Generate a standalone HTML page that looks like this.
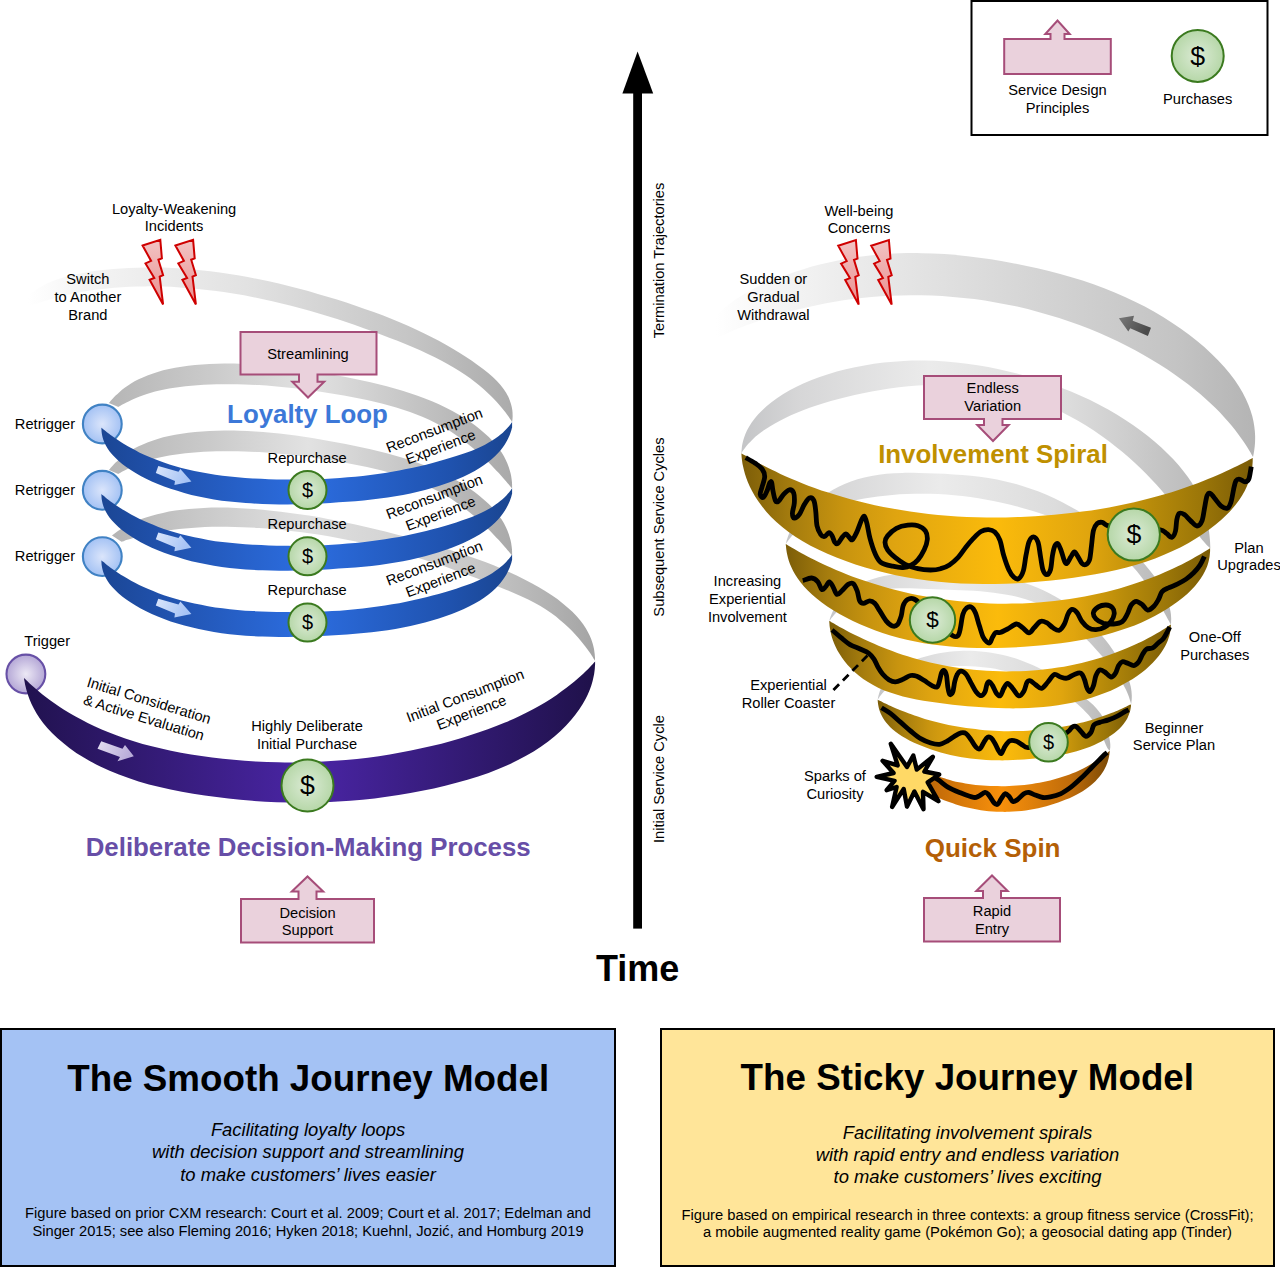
<!DOCTYPE html>
<html><head><meta charset="utf-8"><title>Journey Models</title>
<style>
html,body{margin:0;padding:0;background:#fff;}
body{width:1280px;height:1268px;overflow:hidden;position:relative;font-family:"Liberation Sans",sans-serif;}
svg{position:absolute;left:0;top:0;}
svg text{font-family:"Liberation Sans",sans-serif;}
</style></head><body>
<svg width="1280" height="1268" viewBox="0 0 1280 1268">
<defs>
<linearGradient id="gBlue" gradientUnits="userSpaceOnUse" x1="101" y1="0" x2="512" y2="0">
<stop offset="0" stop-color="#1b4694"/><stop offset="0.12" stop-color="#1f4fa8"/><stop offset="0.5" stop-color="#2c6de0"/><stop offset="0.85" stop-color="#1f52ae"/><stop offset="1" stop-color="#1a4590"/></linearGradient>
<linearGradient id="gPurple" gradientUnits="userSpaceOnUse" x1="24" y1="0" x2="595" y2="0">
<stop offset="0" stop-color="#21124f"/><stop offset="0.5" stop-color="#4a25a5"/><stop offset="1" stop-color="#1f114a"/></linearGradient>
<linearGradient id="gGrayL" gradientUnits="userSpaceOnUse" x1="104" y1="0" x2="512" y2="0">
<stop offset="0" stop-color="#b5b5b5"/><stop offset="0.27" stop-color="#cbcbcb"/><stop offset="0.5" stop-color="#e2e2e2"/><stop offset="1" stop-color="#a9a9a9"/></linearGradient>
<linearGradient id="gGray0" gradientUnits="userSpaceOnUse" x1="110" y1="0" x2="596" y2="0">
<stop offset="0" stop-color="#b4b4b4"/><stop offset="0.4" stop-color="#e0e0e0"/><stop offset="0.75" stop-color="#c8c8c8"/><stop offset="1" stop-color="#a4a4a4"/></linearGradient>
<linearGradient id="gGray3" gradientUnits="userSpaceOnUse" x1="28" y1="0" x2="512" y2="0">
<stop offset="0" stop-color="#ffffff"/><stop offset="0.12" stop-color="#f4f4f4"/><stop offset="0.45" stop-color="#e2e2e2"/><stop offset="0.8" stop-color="#c4c4c4"/><stop offset="1" stop-color="#ababab"/></linearGradient>
<radialGradient id="gRetr" cx="0.5" cy="0.5" r="0.5"><stop offset="0" stop-color="#dbe5fb"/><stop offset="1" stop-color="#a4c2f4"/></radialGradient>
<radialGradient id="gTrig" cx="0.5" cy="0.5" r="0.5"><stop offset="0" stop-color="#ece8f5"/><stop offset="1" stop-color="#b4a7d6"/></radialGradient>
<radialGradient id="gGreen" cx="0.5" cy="0.5" r="0.5"><stop offset="0" stop-color="#dcebd6"/><stop offset="1" stop-color="#b6d7a8"/></radialGradient>
<linearGradient id="gBolt" x1="0" y1="0" x2="0" y2="1"><stop offset="0" stop-color="#f2c4c4"/><stop offset="1" stop-color="#ea8f8f"/></linearGradient>
<linearGradient id="gArrB" x1="0" y1="0" x2="1" y2="0.3"><stop offset="0" stop-color="#dbe6fb"/><stop offset="1" stop-color="#a6c3f5"/></linearGradient>
<linearGradient id="gArrP" x1="0" y1="0" x2="1" y2="0.3"><stop offset="0" stop-color="#e4dff1"/><stop offset="1" stop-color="#b9add9"/></linearGradient>

<linearGradient id="gGold" x1="0" y1="0" x2="1" y2="0">
<stop offset="0" stop-color="#7c5d08"/><stop offset="0.1" stop-color="#a67d0e"/><stop offset="0.2" stop-color="#c8940f"/><stop offset="0.3" stop-color="#dfa410"/><stop offset="0.5" stop-color="#fbbb0b"/><stop offset="0.68" stop-color="#e0a50e"/><stop offset="0.8" stop-color="#b88b0a"/><stop offset="0.9" stop-color="#9b7608"/><stop offset="1" stop-color="#7a5b06"/></linearGradient>
<linearGradient id="gOrange" x1="0" y1="0" x2="1" y2="0">
<stop offset="0" stop-color="#b05e08"/><stop offset="0.45" stop-color="#f8900b"/><stop offset="0.8" stop-color="#c06c0a"/><stop offset="1" stop-color="#7a4a06"/></linearGradient>
<linearGradient id="gK" x1="0" y1="0" x2="1" y2="0">
<stop offset="0" stop-color="#c4c5c7"/><stop offset="0.12" stop-color="#d6d6d7"/><stop offset="0.4" stop-color="#ebebeb"/><stop offset="0.7" stop-color="#dcdcdc"/><stop offset="1" stop-color="#b8b8b8"/></linearGradient>
<linearGradient id="gTG" gradientUnits="userSpaceOnUse" x1="716" y1="0" x2="1256" y2="0">
<stop offset="0" stop-color="#ffffff"/><stop offset="0.1" stop-color="#f6f6f6"/><stop offset="0.3" stop-color="#e8e8e8"/><stop offset="0.6" stop-color="#d4d4d4"/><stop offset="0.85" stop-color="#c4c4c4"/><stop offset="1" stop-color="#b4b4b4"/></linearGradient>
<linearGradient id="gArrG" x1="0" y1="0" x2="1" y2="0.4"><stop offset="0" stop-color="#7a7a7a"/><stop offset="1" stop-color="#4a4a4a"/></linearGradient>

</defs>
<path d="M22 303C22.1 302.9 22.2 302.8 22.5 302.4C22.8 302 23.3 301.4 24 300.6C24.7 299.9 25.6 298.9 26.6 297.9C27.7 296.8 29 295.6 30.4 294.3C31.9 293.1 33.6 291.7 35.6 290.3C37.5 288.9 39.7 287.5 42.2 286.1C44.6 284.7 47.3 283.3 50.3 282C53.3 280.8 56.5 279.5 60 278.4C63.5 277.2 67.3 276.2 71.3 275.2C75.3 274.3 79.6 273.5 84.1 272.7C88.5 271.9 93.2 271.2 98.1 270.6C102.9 270 107.9 269.4 113.1 269C118.2 268.5 123.6 268.1 129.1 267.9C134.5 267.6 140.2 267.5 145.9 267.4C151.7 267.4 157.5 267.4 163.5 267.6C169.5 267.8 175.6 268.1 181.8 268.5C188 269 194.3 269.5 200.6 270.2C207 270.8 213.4 271.6 219.8 272.5C226.3 273.4 232.8 274.4 239.3 275.5C245.9 276.7 252.5 277.9 259 279.3C265.6 280.6 272.2 282 278.8 283.6C285.3 285.1 291.9 286.8 298.4 288.5C304.9 290.2 311.4 292 317.8 293.9C324.2 295.7 330.6 297.7 336.9 299.6C343.2 301.6 349.5 303.7 355.6 305.7C361.7 307.8 367.8 309.9 373.7 312.1C379.7 314.3 385.5 316.5 391.2 318.8C396.9 321.1 402.5 323.4 407.9 325.8C413.4 328.2 418.7 330.7 423.8 333.2C428.9 335.7 433.9 338.2 438.8 340.8C443.6 343.4 448.3 346.1 452.8 348.8C457.3 351.4 461.6 354.1 465.7 356.8C469.9 359.5 473.9 362.3 477.6 365C481.4 367.7 485 370.4 488.2 373C491.4 375.7 494.4 378.4 496.9 381.1C499.5 383.8 501.7 386.4 503.6 389C505.5 391.6 506.9 394.2 508.2 396.6C509.4 399.1 510.2 401.5 510.9 403.7C511.6 405.9 512 408.1 512.3 409.9C512.6 411.8 512.6 413.6 512.6 415.1C512.7 416.6 512.6 417.9 512.5 418.9C512.4 419.9 512.3 420.7 512.2 421.2C512.2 421.7 512.1 421.9 512.1 422L512.1 422C512 421.9 512 421.8 511.7 421.4C511.4 421 511.1 420.4 510.5 419.6C510 418.8 509.3 417.8 508.5 416.6C507.7 415.5 506.7 414.1 505.6 412.6C504.4 411.1 503.2 409.5 501.7 407.7C500.2 405.9 498.6 404 496.8 402C495 400 493 397.9 490.7 395.7C488.5 393.5 486.1 391.2 483.5 388.9C480.9 386.7 478 384.3 475 381.9C471.9 379.6 468.6 377.2 465.1 374.8C461.7 372.4 457.9 370.1 454 367.7C450.1 365.4 445.9 363 441.6 360.7C437.2 358.4 432.6 356.1 427.9 353.9C423.2 351.6 418.2 349.4 413.1 347.3C408 345.1 402.7 342.9 397.4 340.8C392 338.7 386.5 336.5 380.9 334.4C375.3 332.3 369.5 330.2 363.7 328.2C357.9 326.1 352.1 324.1 346.1 322.1C340.2 320.1 334.1 318.2 328 316.3C322 314.4 315.8 312.6 309.7 310.8C303.5 309 297.3 307.3 291 305.7C284.8 304.1 278.5 302.6 272.3 301.2C266 299.8 259.7 298.4 253.5 297.2C247.2 295.9 240.9 294.8 234.7 293.8C228.5 292.7 222.3 291.8 216.2 291C210 290.2 203.9 289.5 197.9 288.9C191.8 288.3 185.8 287.8 179.9 287.4C174.1 287 168.2 286.7 162.5 286.6C156.8 286.4 151.2 286.3 145.7 286.4C140.2 286.4 134.8 286.6 129.6 286.8C124.4 287 119.3 287.4 114.4 287.8C109.5 288.2 104.7 288.7 100.1 289.3C95.6 289.8 91.1 290.5 86.9 291.1C82.7 291.8 78.7 292.6 74.8 293.3C71 294.1 67.3 294.9 63.9 295.7C60.4 296.6 57.2 297.4 54.1 298.2C51.1 299 48.3 299.9 45.7 300.7C43 301.5 40.6 302.2 38.5 303C36.3 303.7 34.3 304.4 32.5 305C30.8 305.6 29.3 306.2 27.9 306.7C26.6 307.2 25.5 307.6 24.6 308C23.8 308.3 23.1 308.6 22.7 308.7C22.2 308.9 22.1 309 22 309Z" fill="url(#gGray3)"/>
<path d="M108.9 403.1C109 403 109 402.9 109.3 402.6C109.6 402.3 110 401.8 110.5 401.1C111.1 400.5 111.7 399.7 112.6 398.7C113.4 397.8 114.4 396.8 115.6 395.6C116.8 394.5 118.1 393.2 119.6 391.9C121.1 390.6 122.8 389.2 124.7 387.8C126.6 386.4 128.7 385 131 383.5C133.3 382.1 135.8 380.7 138.6 379.3C141.3 378 144.2 376.6 147.4 375.4C150.6 374.2 154 373 157.6 371.9C161.2 370.8 165 369.8 169 369C173 368.1 177.2 367.3 181.6 366.7C185.9 366 190.5 365.5 195.1 365.1C199.8 364.6 204.6 364.3 209.4 364C214.3 363.8 219.2 363.6 224.3 363.6C229.3 363.5 234.4 363.6 239.5 363.7C244.7 363.9 250 364.1 255.2 364.4C260.5 364.7 265.9 365.2 271.2 365.7C276.6 366.2 282.1 366.8 287.5 367.5C293 368.2 298.5 368.9 304 369.7C309.5 370.6 315 371.5 320.6 372.4C326.1 373.4 331.7 374.4 337.3 375.4C342.8 376.5 348.4 377.5 354 378.7C359.5 379.8 365 381 370.5 382.2C376 383.5 381.4 384.8 386.7 386.2C392.1 387.6 397.3 389.1 402.5 390.7C407.6 392.3 412.7 393.9 417.6 395.7C422.5 397.5 427.4 399.4 432 401.3C436.6 403.3 441.2 405.4 445.5 407.6C449.9 409.7 454.1 412 458.1 414.3C462.1 416.7 466 419.1 469.6 421.6C473.3 424.1 476.7 426.6 479.9 429.2C483.1 431.8 486.1 434.4 488.8 437C491.5 439.6 493.9 442.3 496 444.9C498.2 447.5 500 450.1 501.7 452.6C503.3 455.1 504.7 457.6 505.8 460C507 462.4 507.9 464.7 508.7 466.9C509.5 469.1 510 471.2 510.5 473.1C511 475 511.3 476.8 511.5 478.4C511.8 480 511.9 481.5 512 482.7C512.1 484 512.1 485.1 512.1 485.9C512.1 486.8 512.1 487.4 512.1 487.8C512.1 488.3 512.1 488.4 512.1 488.5L512.1 488.5C512 488.4 512 488.4 511.7 488.1C511.5 487.8 511.1 487.3 510.6 486.7C510.2 486.2 509.5 485.4 508.8 484.6C508.1 483.7 507.2 482.7 506.2 481.5C505.3 480.4 504.1 479.1 502.9 477.7C501.7 476.3 500.3 474.8 498.8 473.1C497.3 471.5 495.7 469.7 493.9 467.9C492.1 466 490.2 464.1 488.2 462C486.1 460 483.9 457.9 481.6 455.7C479.3 453.5 476.8 451.3 474.1 449C471.5 446.8 468.7 444.5 465.8 442.2C462.9 439.9 459.8 437.6 456.5 435.4C453.3 433.2 449.8 430.9 446.3 428.8C442.7 426.7 438.9 424.7 435.1 422.7C431.2 420.7 427.1 418.9 422.9 417.1C418.7 415.3 414.4 413.6 410 412C405.5 410.4 400.9 408.9 396.2 407.5C391.5 406.1 386.7 404.8 381.8 403.6C376.9 402.3 372 401.2 366.9 400.1C361.9 399 356.8 398 351.6 397C346.5 396 341.3 395.1 336.1 394.2C331 393.3 325.7 392.5 320.5 391.7C315.3 390.9 310.1 390.2 304.9 389.5C299.8 388.8 294.6 388.2 289.5 387.7C284.3 387.1 279.2 386.6 274.2 386.2C269.1 385.8 264.1 385.4 259.1 385.1C254.2 384.8 249.3 384.6 244.5 384.4C239.7 384.3 235 384.2 230.3 384.2C225.7 384.2 221.1 384.2 216.7 384.3C212.3 384.4 207.9 384.6 203.7 384.8C199.5 385 195.3 385.3 191.4 385.7C187.4 386 183.6 386.4 179.9 386.9C176.2 387.4 172.6 387.9 169.2 388.5C165.8 389.1 162.6 389.8 159.5 390.5C156.5 391.2 153.6 392 150.9 392.8C148.1 393.6 145.6 394.4 143.2 395.2C140.8 396.1 138.6 396.9 136.6 397.7C134.5 398.6 132.7 399.4 131 400.2C129.3 401 127.8 401.7 126.4 402.4C125.1 403.1 123.9 403.7 122.9 404.3C121.9 404.8 121.1 405.3 120.4 405.7C119.7 406.1 119.2 406.4 118.9 406.6C118.6 406.8 118.5 406.8 118.4 406.9Z" fill="url(#gGrayL)"/>
<path d="M108.9 470.1C109 470 109 469.9 109.3 469.6C109.6 469.3 110 468.8 110.5 468.1C111.1 467.5 111.7 466.7 112.6 465.7C113.4 464.8 114.4 463.8 115.6 462.6C116.8 461.5 118.1 460.2 119.6 458.9C121.1 457.6 122.8 456.2 124.7 454.8C126.6 453.4 128.7 452 131 450.5C133.3 449.1 135.8 447.7 138.6 446.3C141.3 445 144.2 443.6 147.4 442.4C150.6 441.2 154 440 157.6 438.9C161.2 437.8 165 436.8 169 436C173 435.1 177.2 434.3 181.6 433.7C185.9 433 190.5 432.5 195.1 432.1C199.8 431.6 204.6 431.3 209.4 431C214.3 430.8 219.2 430.6 224.3 430.6C229.3 430.5 234.4 430.6 239.5 430.7C244.7 430.9 250 431.1 255.2 431.4C260.5 431.7 265.9 432.2 271.2 432.7C276.6 433.2 282.1 433.8 287.5 434.5C293 435.2 298.5 435.9 304 436.7C309.5 437.6 315 438.5 320.6 439.4C326.1 440.4 331.7 441.4 337.3 442.4C342.8 443.5 348.4 444.5 354 445.7C359.5 446.8 365 448 370.5 449.2C376 450.5 381.4 451.8 386.7 453.2C392.1 454.6 397.3 456.1 402.5 457.7C407.6 459.3 412.7 460.9 417.6 462.7C422.5 464.5 427.4 466.4 432 468.3C436.6 470.3 441.2 472.4 445.5 474.6C449.9 476.7 454.1 479 458.1 481.3C462.1 483.7 466 486.1 469.6 488.6C473.3 491.1 476.7 493.6 479.9 496.2C483.1 498.8 486.1 501.4 488.8 504C491.5 506.6 493.9 509.3 496 511.9C498.2 514.5 500 517.1 501.7 519.6C503.3 522.1 504.7 524.6 505.8 527C507 529.4 507.9 531.7 508.7 533.9C509.5 536.1 510 538.2 510.5 540.1C511 542 511.3 543.8 511.5 545.4C511.8 547 511.9 548.5 512 549.7C512.1 551 512.1 552.1 512.1 552.9C512.1 553.8 512.1 554.4 512.1 554.8C512.1 555.3 512.1 555.4 512.1 555.5L512.1 555.5C512 555.4 512 555.4 511.7 555.1C511.5 554.8 511.1 554.3 510.6 553.7C510.2 553.2 509.5 552.4 508.8 551.6C508.1 550.7 507.2 549.7 506.2 548.5C505.3 547.4 504.1 546.1 502.9 544.7C501.7 543.3 500.3 541.8 498.8 540.1C497.3 538.5 495.7 536.7 493.9 534.9C492.1 533 490.2 531.1 488.2 529C486.1 527 483.9 524.9 481.6 522.7C479.3 520.5 476.8 518.3 474.1 516C471.5 513.8 468.7 511.5 465.8 509.2C462.9 506.9 459.8 504.6 456.5 502.4C453.3 500.2 449.8 497.9 446.3 495.8C442.7 493.7 438.9 491.7 435.1 489.7C431.2 487.7 427.1 485.9 422.9 484.1C418.7 482.3 414.4 480.6 410 479C405.5 477.4 400.9 475.9 396.2 474.5C391.5 473.1 386.7 471.8 381.8 470.6C376.9 469.3 372 468.2 366.9 467.1C361.9 466 356.8 465 351.6 464C346.5 463 341.3 462.1 336.1 461.2C331 460.3 325.7 459.5 320.5 458.7C315.3 457.9 310.1 457.2 304.9 456.5C299.8 455.8 294.6 455.2 289.5 454.7C284.3 454.1 279.2 453.6 274.2 453.2C269.1 452.8 264.1 452.4 259.1 452.1C254.2 451.8 249.3 451.6 244.5 451.4C239.7 451.3 235 451.2 230.3 451.2C225.7 451.2 221.1 451.2 216.7 451.3C212.3 451.4 207.9 451.6 203.7 451.8C199.5 452 195.3 452.3 191.4 452.7C187.4 453 183.6 453.4 179.9 453.9C176.2 454.4 172.6 454.9 169.2 455.5C165.8 456.1 162.6 456.8 159.5 457.5C156.5 458.2 153.6 459 150.9 459.8C148.1 460.6 145.6 461.4 143.2 462.2C140.8 463.1 138.6 463.9 136.6 464.7C134.5 465.6 132.7 466.4 131 467.2C129.3 468 127.8 468.7 126.4 469.4C125.1 470.1 123.9 470.7 122.9 471.3C121.9 471.8 121.1 472.3 120.4 472.7C119.7 473.1 119.2 473.4 118.9 473.6C118.6 473.8 118.5 473.8 118.4 473.9Z" fill="url(#gGrayL)"/>
<path d="M112 535.5C112.1 535.4 112.2 535.3 112.6 535C113 534.7 113.5 534.3 114.3 533.7C115.1 533.1 116.1 532.3 117.2 531.5C118.4 530.7 119.8 529.7 121.4 528.8C123 527.8 124.9 526.7 126.9 525.6C129 524.5 131.3 523.3 133.8 522.2C136.3 521 139.1 519.9 142.1 518.8C145.1 517.7 148.3 516.7 151.8 515.7C155.3 514.7 159 513.8 162.9 512.9C166.8 512.1 171 511.3 175.3 510.6C179.7 510 184.2 509.4 188.9 508.9C193.7 508.4 198.6 508.1 203.7 507.9C208.8 507.6 214 507.5 219.5 507.5C224.9 507.5 230.5 507.7 236.1 507.9C241.8 508.1 247.7 508.5 253.6 509C259.5 509.4 265.5 510 271.6 510.7C277.7 511.3 283.8 512.1 290 512.9C296.2 513.7 302.5 514.6 308.8 515.6C315.1 516.6 321.4 517.7 327.8 518.9C334.1 520.1 340.5 521.3 346.9 522.7C353.3 524 359.7 525.4 366.1 526.9C372.5 528.4 378.9 529.9 385.2 531.5C391.5 533.1 397.9 534.8 404.2 536.5C410.5 538.2 416.7 540 422.9 541.8C429.1 543.6 435.3 545.4 441.3 547.3C447.4 549.1 453.4 551 459.4 553C465.3 554.9 471.1 556.9 476.8 559C482.5 561 488.1 563.1 493.6 565.3C499 567.5 504.4 569.8 509.5 572.2C514.7 574.5 519.7 576.9 524.5 579.4C529.4 581.9 534.1 584.5 538.5 587.1C543 589.7 547.4 592.4 551.4 595.1C555.5 597.8 559.3 600.6 562.8 603.4C566.3 606.2 569.5 609 572.4 611.8C575.3 614.6 577.8 617.4 580.1 620.2C582.3 622.9 584.2 625.7 585.8 628.3C587.4 630.9 588.7 633.5 589.9 636C591 638.4 591.8 640.8 592.5 643C593.1 645.1 593.6 647.2 594 649C594.3 650.9 594.5 652.6 594.7 654C594.8 655.4 594.9 656.7 595 657.7C595 658.7 595 659.4 595 659.9C595 660.4 595 660.6 595 660.7L595 660.7C594.9 660.6 594.9 660.5 594.6 660.1C594.4 659.7 594 659.2 593.5 658.4C593.1 657.6 592.4 656.7 591.7 655.6C590.9 654.4 590.1 653.1 589 651.6C588 650.2 586.8 648.5 585.5 646.8C584.1 645 582.6 643 580.9 641C579.2 639 577.4 636.8 575.3 634.6C573.3 632.3 571 630 568.5 627.6C566.1 625.2 563.4 622.8 560.5 620.4C557.6 617.9 554.5 615.5 551.1 613.1C547.8 610.7 544.2 608.3 540.4 606.1C536.5 603.8 532.5 601.6 528.2 599.5C524 597.4 519.5 595.4 514.9 593.4C510.2 591.4 505.4 589.5 500.5 587.5C495.5 585.5 490.4 583.5 485.3 581.5C480.1 579.4 474.8 577.4 469.4 575.4C464 573.4 458.5 571.4 452.9 569.4C447.3 567.4 441.7 565.5 435.9 563.6C430.2 561.7 424.4 559.8 418.5 558C412.7 556.2 406.7 554.4 400.8 552.7C394.9 551.1 388.9 549.5 382.9 547.9C376.9 546.4 370.8 544.9 364.8 543.6C358.8 542.2 352.7 540.9 346.7 539.7C340.7 538.5 334.7 537.4 328.7 536.3C322.7 535.3 316.7 534.3 310.8 533.5C304.9 532.6 299 531.8 293.1 531.2C287.3 530.5 281.5 529.9 275.8 529.3C270.1 528.8 264.5 528.4 259 528C253.4 527.7 248 527.4 242.6 527.2C237.3 527 232.1 526.8 227 526.8C221.9 526.7 216.9 526.7 212.1 526.8C207.3 527 202.6 527.1 198.1 527.4C193.6 527.6 189.3 528 185.1 528.4C181 528.7 177 529.2 173.2 529.7C169.5 530.2 165.9 530.7 162.5 531.3C159.1 531.9 155.9 532.5 152.9 533.1C150 533.7 147.2 534.4 144.6 535C142.1 535.6 139.7 536.2 137.6 536.8C135.4 537.4 133.5 537.9 131.8 538.4C130.1 538.9 128.6 539.4 127.3 539.8C126 540.2 124.9 540.6 124.1 540.9C123.2 541.2 122.6 541.4 122.1 541.6C121.7 541.7 121.6 541.8 121.5 541.8Z" fill="url(#gGray0)"/>
<circle cx="102.3" cy="424" r="19.4" fill="url(#gRetr)" stroke="#4082c4" stroke-width="2.1"/>
<circle cx="102.3" cy="490.3" r="19.4" fill="url(#gRetr)" stroke="#4082c4" stroke-width="2.1"/>
<circle cx="102.3" cy="556.6" r="19.4" fill="url(#gRetr)" stroke="#4082c4" stroke-width="2.1"/>
<circle cx="25.9" cy="674" r="19.4" fill="url(#gTrig)" stroke="#6750a6" stroke-width="2.1"/>
<path d="M101.4 427.7C101.5 427.8 101.5 427.8 101.8 428.1C102.1 428.3 102.6 428.7 103.2 429.2C103.8 429.7 104.6 430.3 105.5 431.1C106.4 431.8 107.4 432.6 108.7 433.6C109.9 434.5 111.2 435.5 112.8 436.6C114.3 437.7 116 438.9 117.9 440.1C119.8 441.4 121.8 442.7 124 444C126.2 445.4 128.5 446.7 131.1 448.1C133.6 449.5 136.3 450.9 139.2 452.4C142.1 453.8 145.1 455.2 148.3 456.5C151.5 457.9 154.9 459.3 158.4 460.6C162 461.9 165.7 463.2 169.5 464.4C173.4 465.6 177.4 466.8 181.5 467.9C185.7 469 190 470 194.4 471C198.9 471.9 203.4 472.8 208.1 473.6C212.8 474.4 217.6 475.1 222.5 475.7C227.4 476.3 232.4 476.9 237.5 477.3C242.6 477.8 247.7 478.2 252.9 478.5C258.1 478.8 263.4 479 268.7 479.2C273.9 479.4 279.3 479.5 284.6 479.5C289.9 479.6 295.2 479.6 300.5 479.5C305.8 479.4 311.1 479.3 316.4 479.1C321.6 479 326.9 478.7 332.1 478.4C337.3 478.1 342.5 477.8 347.6 477.3C352.7 476.9 357.8 476.4 362.8 475.9C367.8 475.3 372.8 474.7 377.7 474C382.6 473.3 387.4 472.5 392.1 471.7C396.9 470.9 401.6 470.1 406.1 469.1C410.7 468.2 415.2 467.2 419.6 466.2C424 465.2 428.3 464.1 432.5 463C436.6 461.9 440.7 460.8 444.7 459.6C448.6 458.5 452.5 457.3 456.2 456.1C459.9 454.9 463.5 453.7 466.9 452.5C470.3 451.2 473.5 450 476.5 448.7C479.6 447.4 482.4 446 485 444.7C487.6 443.3 490 442 492.2 440.6C494.3 439.2 496.3 437.9 498.1 436.5C499.8 435.2 501.4 433.9 502.8 432.7C504.1 431.4 505.3 430.2 506.4 429.1C507.4 428 508.3 427 509 426.2C509.7 425.3 510.3 424.5 510.8 423.9C511.2 423.3 511.6 422.8 511.8 422.5C512 422.2 512 422.1 512.1 422L512.1 427.4C512.1 427.5 512.1 427.6 511.9 428C511.8 428.4 511.7 429.1 511.4 429.9C511.2 430.7 510.9 431.7 510.4 432.9C510 434.1 509.5 435.4 508.8 436.9C508.2 438.4 507.4 440 506.4 441.8C505.4 443.5 504.3 445.3 502.9 447.2C501.5 449.1 499.9 451.1 498.1 453.1C496.3 455.1 494.2 457.1 491.9 459.1C489.6 461.1 487 463.2 484.1 465.1C481.3 467.1 478.1 469.1 474.7 470.9C471.4 472.8 467.7 474.6 463.9 476.4C460.1 478.1 456 479.8 451.8 481.4C447.6 483 443.2 484.5 438.8 485.9C434.3 487.3 429.7 488.7 425 489.9C420.3 491.2 415.4 492.3 410.5 493.4C405.6 494.5 400.5 495.4 395.4 496.3C390.3 497.2 385 497.9 379.7 498.6C374.4 499.3 369 499.9 363.6 500.4C358.2 501 352.6 501.4 347.1 501.8C341.5 502.2 335.9 502.5 330.3 502.9C324.7 503.2 319 503.5 313.3 503.7C307.6 503.9 301.9 504.1 296.3 504.2C290.6 504.3 284.9 504.4 279.2 504.4C273.6 504.3 268 504.2 262.4 504C256.8 503.8 251.3 503.5 245.8 503.1C240.3 502.7 234.9 502.2 229.6 501.6C224.3 500.9 219 500.2 213.9 499.4C208.7 498.5 203.7 497.5 198.7 496.5C193.8 495.4 189 494.2 184.3 492.9C179.6 491.6 175 490.2 170.6 488.8C166.2 487.3 161.9 485.7 157.8 484C153.7 482.3 149.8 480.6 146.1 478.7C142.4 476.9 138.9 474.9 135.6 473C132.3 471 129.2 469 126.3 466.9C123.5 464.9 120.8 462.8 118.4 460.7C116.1 458.6 114 456.5 112.2 454.5C110.3 452.4 108.8 450.4 107.6 448.4C106.3 446.5 105.3 444.5 104.5 442.7C103.7 440.9 103.2 439.2 102.7 437.7C102.3 436.1 102 434.7 101.8 433.5C101.6 432.3 101.5 431.2 101.5 430.3C101.4 429.5 101.4 428.8 101.4 428.4C101.4 427.9 101.4 427.8 101.4 427.7Z" fill="url(#gBlue)"/>
<path d="M101.4 494C101.5 494.1 101.5 494.1 101.8 494.4C102.1 494.6 102.6 495 103.2 495.5C103.8 496 104.6 496.6 105.5 497.4C106.4 498.1 107.4 498.9 108.7 499.9C109.9 500.8 111.2 501.8 112.8 502.9C114.3 504 116 505.2 117.9 506.4C119.8 507.7 121.8 509 124 510.3C126.2 511.7 128.5 513 131.1 514.4C133.6 515.8 136.3 517.2 139.2 518.7C142.1 520.1 145.1 521.5 148.3 522.8C151.5 524.2 154.9 525.6 158.4 526.9C162 528.2 165.7 529.5 169.5 530.7C173.4 531.9 177.4 533.1 181.5 534.2C185.7 535.3 190 536.3 194.4 537.3C198.9 538.2 203.4 539.1 208.1 539.9C212.8 540.7 217.6 541.4 222.5 542C227.4 542.6 232.4 543.2 237.5 543.6C242.6 544.1 247.7 544.5 252.9 544.8C258.1 545.1 263.4 545.3 268.7 545.5C273.9 545.7 279.3 545.8 284.6 545.8C289.9 545.9 295.2 545.9 300.5 545.8C305.8 545.7 311.1 545.6 316.4 545.4C321.6 545.3 326.9 545 332.1 544.7C337.3 544.4 342.5 544.1 347.6 543.6C352.7 543.2 357.8 542.7 362.8 542.2C367.8 541.6 372.8 541 377.7 540.3C382.6 539.6 387.4 538.8 392.1 538C396.9 537.2 401.6 536.4 406.1 535.4C410.7 534.5 415.2 533.5 419.6 532.5C424 531.5 428.3 530.4 432.5 529.3C436.6 528.2 440.7 527.1 444.7 525.9C448.6 524.8 452.5 523.6 456.2 522.4C459.9 521.2 463.5 520 466.9 518.8C470.3 517.5 473.5 516.3 476.5 515C479.6 513.7 482.4 512.3 485 511C487.6 509.6 490 508.3 492.2 506.9C494.3 505.5 496.3 504.2 498.1 502.8C499.8 501.5 501.4 500.2 502.8 499C504.1 497.7 505.3 496.5 506.4 495.4C507.4 494.3 508.3 493.3 509 492.5C509.7 491.6 510.3 490.8 510.8 490.2C511.2 489.6 511.6 489.1 511.8 488.8C512 488.5 512 488.4 512.1 488.3L512.1 493.7C512.1 493.8 512.1 493.9 511.9 494.3C511.8 494.7 511.7 495.4 511.4 496.2C511.2 497 510.9 498 510.4 499.2C510 500.4 509.5 501.7 508.8 503.2C508.2 504.7 507.4 506.3 506.4 508.1C505.4 509.8 504.3 511.6 502.9 513.5C501.5 515.4 499.9 517.4 498.1 519.4C496.3 521.4 494.2 523.4 491.9 525.4C489.6 527.4 487 529.5 484.1 531.4C481.3 533.4 478.1 535.4 474.7 537.2C471.4 539.1 467.7 540.9 463.9 542.7C460.1 544.4 456 546.1 451.8 547.7C447.6 549.3 443.2 550.8 438.8 552.2C434.3 553.6 429.7 555 425 556.2C420.3 557.5 415.4 558.6 410.5 559.7C405.6 560.8 400.5 561.7 395.4 562.6C390.3 563.5 385 564.2 379.7 564.9C374.4 565.6 369 566.2 363.6 566.7C358.2 567.3 352.6 567.7 347.1 568.1C341.5 568.5 335.9 568.8 330.3 569.2C324.7 569.5 319 569.8 313.3 570C307.6 570.2 301.9 570.4 296.3 570.5C290.6 570.6 284.9 570.7 279.2 570.7C273.6 570.6 268 570.5 262.4 570.3C256.8 570.1 251.3 569.8 245.8 569.4C240.3 569 234.9 568.5 229.6 567.9C224.3 567.2 219 566.5 213.9 565.7C208.7 564.8 203.7 563.8 198.7 562.8C193.8 561.7 189 560.5 184.3 559.2C179.6 557.9 175 556.5 170.6 555.1C166.2 553.6 161.9 552 157.8 550.3C153.7 548.6 149.8 546.9 146.1 545C142.4 543.2 138.9 541.2 135.6 539.3C132.3 537.3 129.2 535.3 126.3 533.2C123.5 531.2 120.8 529.1 118.4 527C116.1 524.9 114 522.8 112.2 520.8C110.3 518.7 108.8 516.7 107.6 514.7C106.3 512.8 105.3 510.8 104.5 509C103.7 507.2 103.2 505.5 102.7 504C102.3 502.4 102 501 101.8 499.8C101.6 498.6 101.5 497.5 101.5 496.6C101.4 495.8 101.4 495.1 101.4 494.7C101.4 494.2 101.4 494.1 101.4 494Z" fill="url(#gBlue)"/>
<path d="M101.4 560.3C101.5 560.4 101.5 560.4 101.8 560.7C102.1 560.9 102.6 561.3 103.2 561.8C103.8 562.3 104.6 562.9 105.5 563.7C106.4 564.4 107.4 565.2 108.7 566.2C109.9 567.1 111.2 568.1 112.8 569.2C114.3 570.3 116 571.5 117.9 572.7C119.8 574 121.8 575.3 124 576.6C126.2 578 128.5 579.3 131.1 580.7C133.6 582.1 136.3 583.5 139.2 585C142.1 586.4 145.1 587.8 148.3 589.1C151.5 590.5 154.9 591.9 158.4 593.2C162 594.5 165.7 595.8 169.5 597C173.4 598.2 177.4 599.4 181.5 600.5C185.7 601.6 190 602.6 194.4 603.6C198.9 604.5 203.4 605.4 208.1 606.2C212.8 607 217.6 607.7 222.5 608.3C227.4 608.9 232.4 609.5 237.5 609.9C242.6 610.4 247.7 610.8 252.9 611.1C258.1 611.4 263.4 611.6 268.7 611.8C273.9 612 279.3 612.1 284.6 612.1C289.9 612.2 295.2 612.2 300.5 612.1C305.8 612 311.1 611.9 316.4 611.7C321.6 611.6 326.9 611.3 332.1 611C337.3 610.7 342.5 610.4 347.6 609.9C352.7 609.5 357.8 609 362.8 608.5C367.8 607.9 372.8 607.3 377.7 606.6C382.6 605.9 387.4 605.1 392.1 604.3C396.9 603.5 401.6 602.7 406.1 601.7C410.7 600.8 415.2 599.8 419.6 598.8C424 597.8 428.3 596.7 432.5 595.6C436.6 594.5 440.7 593.4 444.7 592.2C448.6 591.1 452.5 589.9 456.2 588.7C459.9 587.5 463.5 586.3 466.9 585.1C470.3 583.8 473.5 582.6 476.5 581.3C479.6 580 482.4 578.6 485 577.3C487.6 575.9 490 574.6 492.2 573.2C494.3 571.8 496.3 570.5 498.1 569.1C499.8 567.8 501.4 566.5 502.8 565.3C504.1 564 505.3 562.8 506.4 561.7C507.4 560.6 508.3 559.6 509 558.8C509.7 557.9 510.3 557.1 510.8 556.5C511.2 555.9 511.6 555.4 511.8 555.1C512 554.8 512 554.7 512.1 554.6L512.1 560C512.1 560.1 512.1 560.2 511.9 560.6C511.8 561 511.7 561.7 511.4 562.5C511.2 563.3 510.9 564.3 510.4 565.5C510 566.7 509.5 568 508.8 569.5C508.2 571 507.4 572.6 506.4 574.4C505.4 576.1 504.3 577.9 502.9 579.8C501.5 581.7 499.9 583.7 498.1 585.7C496.3 587.7 494.2 589.7 491.9 591.7C489.6 593.7 487 595.8 484.1 597.7C481.3 599.7 478.1 601.7 474.7 603.5C471.4 605.4 467.7 607.2 463.9 609C460.1 610.7 456 612.4 451.8 614C447.6 615.6 443.2 617.1 438.8 618.5C434.3 619.9 429.7 621.3 425 622.5C420.3 623.8 415.4 624.9 410.5 626C405.6 627.1 400.5 628 395.4 628.9C390.3 629.8 385 630.5 379.7 631.2C374.4 631.9 369 632.5 363.6 633C358.2 633.6 352.6 634 347.1 634.4C341.5 634.8 335.9 635.1 330.3 635.5C324.7 635.8 319 636.1 313.3 636.3C307.6 636.5 301.9 636.7 296.3 636.8C290.6 636.9 284.9 637 279.2 637C273.6 636.9 268 636.8 262.4 636.6C256.8 636.4 251.3 636.1 245.8 635.7C240.3 635.3 234.9 634.8 229.6 634.2C224.3 633.5 219 632.8 213.9 632C208.7 631.1 203.7 630.1 198.7 629.1C193.8 628 189 626.8 184.3 625.5C179.6 624.2 175 622.8 170.6 621.4C166.2 619.9 161.9 618.3 157.8 616.6C153.7 614.9 149.8 613.2 146.1 611.3C142.4 609.5 138.9 607.5 135.6 605.6C132.3 603.6 129.2 601.6 126.3 599.5C123.5 597.5 120.8 595.4 118.4 593.3C116.1 591.2 114 589.1 112.2 587.1C110.3 585 108.8 583 107.6 581C106.3 579.1 105.3 577.1 104.5 575.3C103.7 573.5 103.2 571.8 102.7 570.3C102.3 568.7 102 567.3 101.8 566.1C101.6 564.9 101.5 563.8 101.5 562.9C101.4 562.1 101.4 561.4 101.4 561C101.4 560.5 101.4 560.4 101.4 560.3Z" fill="url(#gBlue)"/>
<path d="M24 678C24.1 678.1 24.2 678.2 24.6 678.6C25 679 25.6 679.6 26.4 680.3C27.2 681.1 28.2 682.1 29.4 683.2C30.6 684.3 32 685.6 33.7 687C35.3 688.4 37.2 690 39.2 691.7C41.3 693.4 43.6 695.3 46.1 697.2C48.7 699.1 51.4 701.2 54.4 703.3C57.4 705.3 60.6 707.5 64 709.7C67.5 711.8 71.2 714.1 75.1 716.3C79.1 718.5 83.3 720.7 87.7 722.9C92.1 725.1 96.8 727.3 101.7 729.4C106.6 731.5 111.7 733.5 117 735.5C122.4 737.5 128 739.4 133.8 741.2C139.6 743 145.6 744.7 151.8 746.3C158 747.9 164.4 749.4 170.9 750.7C177.5 752.1 184.2 753.4 191.1 754.5C197.9 755.6 205 756.6 212.1 757.5C219.2 758.4 226.4 759.2 233.7 759.8C241 760.5 248.3 761 255.8 761.5C263.2 761.9 270.7 762.2 278.2 762.3C285.6 762.5 293.2 762.5 300.7 762.4C308.2 762.3 315.8 762 323.3 761.6C330.8 761.2 338.3 760.7 345.8 760.1C353.2 759.4 360.6 758.6 367.9 757.7C375.3 756.8 382.5 755.7 389.7 754.5C396.9 753.4 404 752 410.9 750.6C417.9 749.2 424.7 747.7 431.5 746.1C438.2 744.5 444.8 742.7 451.2 740.9C457.6 739.1 463.9 737.3 470 735.3C476.1 733.3 482.1 731.3 487.8 729.2C493.6 727.1 499.1 725 504.4 722.8C509.7 720.6 514.8 718.3 519.7 716C524.5 713.7 529.1 711.3 533.5 709C537.9 706.6 542 704.2 545.9 701.9C549.7 699.5 553.4 697.2 556.7 694.9C560.1 692.6 563.2 690.3 566.1 688.1C569 685.9 571.7 683.7 574.1 681.7C576.5 679.7 578.7 677.8 580.7 676C582.7 674.2 584.4 672.5 586 671C587.6 669.5 588.9 668.1 590 666.9C591.2 665.8 592.1 664.8 592.9 664C593.6 663.2 594.2 662.5 594.6 662.1C594.9 661.7 595 661.6 595.1 661.5L595.1 663C595.1 663.2 595.1 663.3 595.1 663.9C595.1 664.6 595 665.5 594.9 666.7C594.9 668 594.8 669.5 594.5 671.3C594.3 673.1 594 675.2 593.4 677.5C592.9 679.9 592.3 682.5 591.4 685.2C590.5 688 589.4 691 587.9 694.2C586.5 697.3 584.8 700.7 582.7 704.1C580.6 707.5 578.2 711 575.5 714.6C572.7 718.2 569.6 721.8 566.1 725.4C562.6 729 558.8 732.7 554.7 736.2C550.5 739.7 546 743.1 541.2 746.5C536.3 749.8 531.1 753.1 525.6 756.1C520 759.2 514.1 762.2 507.9 765C501.8 767.8 495.2 770.4 488.5 772.9C481.7 775.3 474.7 777.6 467.5 779.8C460.3 781.9 452.8 783.9 445.2 785.7C437.7 787.6 430 789.3 422.2 790.8C414.4 792.4 406.5 793.8 398.6 795.1C390.7 796.4 382.6 797.5 374.6 798.4C366.5 799.4 358.4 800.2 350.3 800.8C342.1 801.5 333.9 801.9 325.8 802.2C317.6 802.5 309.4 802.7 301.2 802.7C293 802.7 284.8 802.5 276.7 802.2C268.6 801.8 260.4 801.4 252.4 800.8C244.3 800.1 236.3 799.4 228.4 798.5C220.4 797.6 212.6 796.6 204.8 795.5C197 794.4 189.3 793.1 181.8 791.8C174.3 790.4 166.8 788.8 159.6 787.1C152.4 785.4 145.4 783.5 138.6 781.4C131.8 779.3 125.2 777.1 118.9 774.6C112.6 772.2 106.5 769.5 100.8 766.7C95 763.9 89.4 760.9 84.2 757.8C79 754.7 74.1 751.5 69.7 748.2C65.2 744.9 61.1 741.5 57.3 738.1C53.6 734.7 50.3 731.2 47.3 727.9C44.3 724.5 41.8 721.1 39.5 717.9C37.3 714.6 35.4 711.4 33.8 708.4C32.1 705.4 30.8 702.5 29.7 699.8C28.6 697.1 27.8 694.6 27.1 692.3C26.4 690 25.9 688 25.5 686.2C25 684.4 24.8 682.9 24.6 681.7C24.3 680.5 24.2 679.5 24.1 678.9C24 678.3 24 678.2 24 678Z" fill="url(#gPurple)"/>
<circle cx="307.5" cy="490" r="19" fill="url(#gGreen)" stroke="#3b7a1f" stroke-width="2"/>
<text x="307.5" y="496.6" font-size="20" text-anchor="middle" fill="#000">$</text>
<circle cx="307.5" cy="556.3" r="19" fill="url(#gGreen)" stroke="#3b7a1f" stroke-width="2"/>
<text x="307.5" y="562.9" font-size="20" text-anchor="middle" fill="#000">$</text>
<circle cx="307.5" cy="622.6" r="19" fill="url(#gGreen)" stroke="#3b7a1f" stroke-width="2"/>
<text x="307.5" y="629.2" font-size="20" text-anchor="middle" fill="#000">$</text>
<circle cx="307.5" cy="785.5" r="26" fill="url(#gGreen)" stroke="#3b7a1f" stroke-width="2"/>
<text x="307.5" y="794.3" font-size="26.7" text-anchor="middle" fill="#000">$</text>
<polygon points="158.3,466.1 178.5,471.8 180.4,468.9 191.4,481.5 174.4,485 175,480.9 155.8,473" fill="url(#gArrB)"/>
<polygon points="158.3,532.4 178.5,538.1 180.4,535.2 191.4,547.8 174.4,551.3 175,547.2 155.8,539.3" fill="url(#gArrB)"/>
<polygon points="158.3,598.7 178.5,604.4 180.4,601.5 191.4,614.1 174.4,617.6 175,613.5 155.8,605.6" fill="url(#gArrB)"/>
<polygon points="101.2,741.2 122.5,748.8 125,745 133.8,756.2 117.5,761.2 120,757 97.5,748.8" fill="url(#gArrP)"/>
<polygon points="142.6,245.5 160.3,239.8 161.9,258.4 158.4,259.7 163.1,275.1 159.7,276.7 163.1,304.4 149.6,279.8 154.3,277.9 145.5,263.4 151.1,260.9" fill="url(#gBolt)" stroke="#cf0000" stroke-width="2" stroke-linejoin="miter"/>
<polygon points="175.4,245.5 193.1,239.8 194.7,258.4 191.2,259.7 195.9,275.1 192.5,276.7 195.9,304.4 182.4,279.8 187.1,277.9 178.3,263.4 183.9,260.9" fill="url(#gBolt)" stroke="#cf0000" stroke-width="2" stroke-linejoin="miter"/>
<path d="M716 316C716.1 315.9 716.2 315.8 716.6 315.4C717 315 717.6 314.3 718.5 313.5C719.3 312.7 720.4 311.7 721.7 310.6C722.9 309.4 724.4 308.1 726.2 306.6C728 305.2 730 303.6 732.2 302C734.5 300.3 737 298.5 739.9 296.8C742.7 295 745.8 293.1 749.1 291.2C752.5 289.4 756.2 287.5 760.1 285.6C764 283.8 768.3 281.9 772.7 280.1C777.2 278.2 782 276.4 787 274.7C792 272.9 797.2 271.1 802.7 269.4C808.1 267.8 813.8 266.1 819.8 264.6C825.7 263.1 831.8 261.7 838.1 260.4C844.4 259.2 851 258 857.6 257C864.3 256.1 871.2 255.3 878.2 254.6C885.2 254 892.3 253.6 899.6 253.3C906.9 253.1 914.3 253 921.7 253.2C929.2 253.3 936.8 253.6 944.4 254.1C952.1 254.6 959.8 255.3 967.5 256.2C975.3 257.1 983.1 258.1 990.9 259.3C998.6 260.5 1006.4 261.9 1014.2 263.4C1022 264.9 1029.7 266.5 1037.4 268.3C1045.1 270 1052.7 271.9 1060.2 274C1067.8 276 1075.3 278.2 1082.6 280.6C1089.9 283 1097.2 285.5 1104.2 288.2C1111.3 290.9 1118.2 293.8 1125 296.9C1131.8 299.9 1138.4 303.1 1144.8 306.5C1151.2 309.9 1157.4 313.5 1163.5 317.2C1169.5 320.9 1175.3 324.7 1180.9 328.7C1186.5 332.7 1191.9 336.8 1197.1 341C1202.2 345.2 1207.1 349.5 1211.7 353.9C1216.2 358.2 1220.5 362.6 1224.3 367C1228.1 371.3 1231.6 375.7 1234.7 380C1237.8 384.3 1240.4 388.6 1242.7 392.8C1245 396.9 1246.9 401 1248.5 404.9C1250.1 408.8 1251.3 412.6 1252.3 416.2C1253.2 419.8 1253.9 423.2 1254.3 426.4C1254.8 429.7 1255 432.7 1255.1 435.4C1255.2 438.2 1255.1 440.8 1255 443C1254.9 445.3 1254.6 447.3 1254.4 449.1C1254.2 450.8 1253.9 452.3 1253.7 453.5C1253.5 454.6 1253.3 455.5 1253.2 456.1C1253.1 456.7 1253 456.9 1253 457L1253 457C1252.9 456.9 1252.9 456.8 1252.6 456.3C1252.4 455.8 1252 455.1 1251.4 454.2C1250.9 453.3 1250.2 452.1 1249.4 450.8C1248.6 449.4 1247.6 447.9 1246.5 446.1C1245.4 444.3 1244.1 442.4 1242.6 440.3C1241.1 438.1 1239.5 435.8 1237.7 433.4C1235.8 431 1233.8 428.3 1231.5 425.6C1229.3 422.9 1226.9 420.1 1224.2 417.2C1221.5 414.2 1218.6 411.2 1215.5 408.1C1212.4 405 1209.1 401.9 1205.5 398.7C1201.9 395.5 1198.1 392.2 1194 389C1190 385.7 1185.7 382.4 1181.2 379.2C1176.7 375.9 1172 372.6 1167.1 369.3C1162.2 366.1 1157.1 362.8 1151.7 359.7C1146.4 356.5 1140.9 353.3 1135.2 350.2C1129.5 347.2 1123.6 344.2 1117.6 341.3C1111.5 338.3 1105.3 335.5 1098.9 332.8C1092.6 330.1 1086 327.5 1079.4 325C1072.8 322.6 1066 320.2 1059.1 318C1052.3 315.8 1045.3 313.8 1038.3 311.9C1031.3 310 1024.2 308.2 1017.1 306.6C1010 305 1002.8 303.6 995.6 302.4C988.5 301.1 981.3 300 974.2 299.1C967 298.2 959.9 297.5 952.8 296.9C945.7 296.3 938.6 295.9 931.6 295.6C924.7 295.3 917.7 295.2 910.9 295.2C904.1 295.3 897.3 295.5 890.7 295.8C884.1 296.1 877.6 296.5 871.2 297.1C864.8 297.7 858.6 298.3 852.5 299.1C846.4 299.9 840.4 300.8 834.6 301.8C828.9 302.7 823.2 303.8 817.8 304.9C812.4 306 807.1 307.2 802.1 308.4C797 309.6 792.2 310.9 787.5 312.1C782.9 313.4 778.4 314.7 774.2 316C770 317.3 765.9 318.6 762.1 319.8C758.3 321.1 754.8 322.4 751.4 323.6C748.1 324.8 745 325.9 742.1 327.1C739.2 328.2 736.6 329.2 734.2 330.2C731.7 331.2 729.6 332.1 727.6 332.9C725.7 333.7 724 334.4 722.6 335.1C721.1 335.7 719.9 336.3 718.9 336.7C717.9 337.1 717.2 337.5 716.7 337.7C716.2 337.9 716.1 337.9 716 338Z" fill="url(#gTG)"/>
<path d="M741.4 453.3C741.4 453.2 741.4 453 741.4 452.5C741.4 451.9 741.5 451.1 741.6 450C741.7 448.9 741.8 447.5 742 445.9C742.3 444.4 742.6 442.5 743.2 440.5C743.8 438.6 744.4 436.3 745.4 434C746.4 431.7 747.6 429.1 749.2 426.6C750.7 424 752.5 421.3 754.7 418.5C756.9 415.8 759.4 413 762.3 410.3C765.1 407.5 768.3 404.7 771.8 402C775.3 399.3 779.1 396.6 783.3 394C787.4 391.5 791.8 389 796.5 386.7C801.3 384.3 806.3 382.1 811.6 380C816.8 377.9 822.4 376 828.1 374.2C833.8 372.4 839.7 370.7 845.8 369.3C851.8 367.8 858.1 366.5 864.4 365.4C870.8 364.2 877.2 363.3 883.8 362.5C890.4 361.8 897.1 361.3 903.9 360.9C910.7 360.6 917.6 360.5 924.6 360.6C931.5 360.7 938.6 361 945.6 361.5C952.7 362 959.8 362.8 966.9 363.7C974 364.7 981.1 365.8 988.2 367.1C995.3 368.5 1002.5 370 1009.5 371.7C1016.6 373.4 1023.6 375.3 1030.5 377.3C1037.5 379.4 1044.4 381.6 1051.1 384C1057.9 386.3 1064.5 388.9 1071 391.6C1077.5 394.3 1083.9 397.1 1090.1 400.1C1096.3 403.1 1102.3 406.3 1108.2 409.5C1114 412.8 1119.6 416.2 1125 419.7C1130.4 423.2 1135.6 426.8 1140.6 430.5C1145.5 434.2 1150.3 438 1154.8 441.8C1159.3 445.7 1163.6 449.6 1167.5 453.5C1171.5 457.4 1175.3 461.3 1178.7 465.3C1182 469.2 1185.1 473.2 1187.9 477.1C1190.7 481 1193.1 484.9 1195.2 488.7C1197.3 492.5 1199.1 496.3 1200.7 500C1202.2 503.6 1203.4 507.2 1204.5 510.5C1205.6 513.9 1206.3 517.1 1207 520.1C1207.7 523.1 1208.2 526 1208.6 528.5C1209 531.1 1209.3 533.5 1209.5 535.5C1209.7 537.6 1209.9 539.5 1210 541.1C1210.1 542.6 1210.2 544 1210.2 545C1210.2 546.1 1210.3 546.9 1210.3 547.4C1210.3 547.9 1210.3 548.1 1210.3 548.2L1210.1 548.2C1210 548.1 1209.9 548.1 1209.6 547.7C1209.2 547.4 1208.7 546.9 1208 546.3C1207.4 545.6 1206.6 544.7 1205.6 543.7C1204.7 542.6 1203.6 541.4 1202.3 539.9C1201.1 538.5 1199.7 536.8 1198.2 535C1196.7 533.2 1195.1 531.1 1193.3 528.9C1191.5 526.7 1189.6 524.3 1187.6 521.8C1185.5 519.2 1183.4 516.5 1181 513.7C1178.7 510.8 1176.3 507.8 1173.7 504.7C1171.1 501.5 1168.4 498.3 1165.4 494.9C1162.5 491.6 1159.5 488.1 1156.3 484.6C1153 481 1149.7 477.4 1146.1 473.8C1142.5 470.2 1138.7 466.5 1134.7 462.8C1130.8 459.1 1126.6 455.4 1122.2 451.8C1117.9 448.1 1113.3 444.5 1108.6 440.9C1103.8 437.4 1098.9 433.9 1093.8 430.5C1088.7 427.1 1083.4 423.8 1078 420.7C1072.5 417.6 1066.9 414.5 1061.2 411.7C1055.5 408.9 1049.6 406.2 1043.6 403.8C1037.5 401.3 1031.4 399.1 1025.2 397.1C1018.9 395.1 1012.6 393.3 1006.1 391.8C999.7 390.3 993.2 389 986.7 388C980.1 387 973.5 386.2 966.9 385.7C960.4 385.1 953.7 384.8 947.2 384.7C940.6 384.6 934.1 384.7 927.6 384.9C921.1 385.2 914.7 385.6 908.3 386.2C902 386.8 895.8 387.6 889.6 388.4C883.5 389.3 877.5 390.3 871.7 391.4C865.8 392.5 860.1 393.7 854.6 394.9C849.1 396.2 843.7 397.5 838.5 398.9C833.3 400.3 828.3 401.7 823.5 403.2C818.7 404.7 814 406.2 809.6 407.8C805.2 409.4 800.9 411.1 796.9 412.8C792.8 414.5 789 416.2 785.3 418C781.6 419.8 778.2 421.6 774.9 423.4C771.7 425.2 768.7 427.1 765.9 428.9C763.2 430.7 760.7 432.5 758.5 434.3C756.2 436 754.3 437.8 752.6 439.4C750.8 441 749.4 442.6 748.1 444C746.9 445.4 745.9 446.8 745 447.9C744.1 449 743.5 450 742.9 450.8C742.4 451.6 742 452.3 741.8 452.7C741.5 453.1 741.5 453.2 741.4 453.3Z" fill="url(#gK)"/>
<path d="M785.8 544C785.8 543.9 785.8 543.8 785.9 543.4C786 543 786.2 542.3 786.4 541.5C786.6 540.7 786.9 539.6 787.3 538.5C787.7 537.3 788.2 535.9 788.8 534.3C789.5 532.8 790.2 531.1 791.2 529.2C792.2 527.4 793.3 525.4 794.7 523.4C796.1 521.3 797.7 519.1 799.6 516.9C801.4 514.7 803.5 512.4 805.8 510.1C808.2 507.7 810.8 505.4 813.6 503.1C816.4 500.8 819.4 498.4 822.6 496.2C825.9 494 829.3 491.7 833 489.7C836.7 487.7 840.5 485.7 844.6 483.9C848.7 482.2 853 480.6 857.5 479.2C862 477.9 866.6 476.8 871.5 475.9C876.3 475 881.3 474.3 886.5 473.8C891.6 473.3 896.9 473.1 902.3 472.9C907.8 472.8 913.3 472.9 918.9 472.9C924.5 473 930.3 473.2 936 473.5C941.8 473.7 947.6 474 953.4 474.4C959.2 474.8 965.1 475.2 970.9 475.8C976.8 476.4 982.6 477.2 988.4 478.1C994.2 479 999.9 480.1 1005.6 481.4C1011.3 482.7 1016.9 484.2 1022.4 485.9C1027.9 487.6 1033.4 489.5 1038.7 491.6C1044 493.7 1049.2 495.9 1054.3 498.3C1059.4 500.7 1064.4 503.2 1069.2 505.9C1074.1 508.5 1078.8 511.3 1083.3 514.2C1087.9 517 1092.4 520 1096.6 523C1100.9 526 1105.1 529.1 1109 532.2C1113 535.2 1116.9 538.4 1120.5 541.5C1124.2 544.6 1127.7 547.8 1131.1 550.9C1134.4 554 1137.6 557.1 1140.6 560.1C1143.5 563.2 1146.3 566.2 1148.8 569.2C1151.3 572.2 1153.6 575.2 1155.6 578.1C1157.7 581 1159.5 583.9 1161.1 586.7C1162.7 589.4 1164 592.2 1165.2 594.7C1166.4 597.3 1167.3 599.8 1168.1 602.2C1168.9 604.5 1169.5 606.7 1169.9 608.8C1170.4 610.8 1170.7 612.6 1170.9 614.3C1171.1 616 1171.1 617.5 1171.2 618.7C1171.2 620 1171.1 621.1 1171.1 621.9C1171.1 622.8 1171 623.4 1171 623.9C1170.9 624.3 1170.9 624.4 1170.9 624.5L1170.9 624.5C1170.9 624.4 1170.8 624.3 1170.6 624C1170.4 623.6 1170.1 623.1 1169.7 622.4C1169.4 621.7 1168.9 620.9 1168.3 619.9C1167.7 618.8 1167 617.6 1166.3 616.2C1165.5 614.9 1164.6 613.3 1163.7 611.6C1162.7 609.9 1161.6 608 1160.5 606C1159.3 603.9 1158 601.7 1156.6 599.4C1155.2 597.1 1153.7 594.6 1152.1 592.1C1150.4 589.5 1148.7 586.8 1146.7 584.1C1144.8 581.3 1142.7 578.5 1140.4 575.7C1138.2 572.8 1135.7 570 1133.1 567.1C1130.4 564.3 1127.6 561.5 1124.5 558.7C1121.4 556 1118.2 553.2 1114.7 550.6C1111.3 547.9 1107.6 545.3 1103.8 542.8C1099.9 540.3 1095.9 537.8 1091.7 535.4C1087.5 533.1 1083.1 530.8 1078.6 528.6C1074.1 526.5 1069.4 524.4 1064.6 522.4C1059.8 520.4 1054.8 518.5 1049.8 516.7C1044.8 514.9 1039.7 513.2 1034.5 511.6C1029.3 510 1024.1 508.4 1018.8 507C1013.5 505.6 1008.1 504.2 1002.8 503C997.4 501.8 992 500.7 986.6 499.7C981.2 498.8 975.8 497.9 970.4 497.1C965 496.4 959.6 495.8 954.2 495.3C948.9 494.8 943.5 494.4 938.2 494.1C932.9 493.9 927.7 493.7 922.5 493.7C917.3 493.7 912.1 493.8 907.1 494C902.1 494.1 897.1 494.5 892.2 494.9C887.4 495.3 882.6 495.8 877.9 496.4C873.3 496.9 868.7 497.6 864.3 498.4C859.9 499.2 855.7 500.1 851.6 501.1C847.5 502.1 843.6 503.2 839.9 504.5C836.3 505.7 832.7 507 829.5 508.4C826.2 509.9 823.1 511.4 820.2 512.9C817.3 514.5 814.6 516.2 812.2 517.8C809.7 519.4 807.4 521.2 805.4 522.8C803.3 524.5 801.4 526.1 799.7 527.7C798 529.3 796.5 530.8 795.2 532.2C793.8 533.7 792.7 535 791.6 536.3C790.6 537.5 789.7 538.6 789 539.5C788.3 540.5 787.7 541.3 787.2 542C786.7 542.6 786.4 543.2 786.1 543.5C785.9 543.8 785.9 543.9 785.8 544Z" fill="url(#gK)"/>
<path d="M829.3 620.9C829.3 620.8 829.3 620.7 829.4 620.4C829.5 620.1 829.6 619.6 829.8 618.9C830 618.3 830.3 617.4 830.6 616.5C831 615.5 831.4 614.4 831.9 613.2C832.5 611.9 833.2 610.5 834 609C834.8 607.5 835.8 605.9 837 604.3C838.2 602.6 839.5 600.8 841 599C842.6 597.3 844.3 595.4 846.3 593.7C848.2 591.9 850.3 590.2 852.7 588.6C855 586.9 857.5 585.4 860.2 584C862.9 582.6 865.8 581.3 868.9 580.2C871.9 579.1 875.2 578.1 878.6 577.2C882.1 576.4 885.7 575.7 889.5 575C893.2 574.4 897.2 574 901.2 573.5C905.3 573.1 909.5 572.8 913.7 572.5C918 572.1 922.4 571.9 926.8 571.7C931.3 571.5 935.8 571.4 940.4 571.4C945 571.3 949.7 571.4 954.3 571.5C959 571.7 963.7 571.9 968.5 572.2C973.2 572.6 977.9 573.1 982.7 573.7C987.4 574.3 992.1 575 996.7 575.9C1001.4 576.7 1006.1 577.7 1010.6 578.9C1015.2 580 1019.7 581.3 1024.1 582.7C1028.5 584.2 1032.8 585.8 1037 587.5C1041.2 589.3 1045.3 591.2 1049.3 593.2C1053.3 595.3 1057.2 597.5 1060.9 599.8C1064.6 602.1 1068.2 604.6 1071.6 607.1C1075.1 609.7 1078.4 612.3 1081.5 615C1084.7 617.8 1087.7 620.6 1090.5 623.4C1093.4 626.2 1096.1 629.1 1098.6 632C1101.2 634.8 1103.6 637.7 1105.9 640.6C1108.2 643.5 1110.3 646.4 1112.3 649.2C1114.3 652 1116.2 654.8 1117.9 657.6C1119.6 660.3 1121.2 663 1122.6 665.6C1124 668.1 1125.2 670.7 1126.2 673.1C1127.3 675.5 1128.1 677.8 1128.9 679.9C1129.6 682.1 1130.1 684.2 1130.6 686.1C1131 688 1131.3 689.8 1131.5 691.5C1131.7 693.1 1131.7 694.6 1131.8 696C1131.8 697.3 1131.8 698.5 1131.7 699.5C1131.6 700.6 1131.5 701.4 1131.4 702.1C1131.4 702.8 1131.3 703.3 1131.2 703.7C1131.1 704 1131.1 704.1 1131.1 704.2L1131.1 704.2C1131.1 704.1 1131.1 704 1131 703.7C1130.9 703.4 1130.8 702.9 1130.6 702.3C1130.4 701.7 1130.2 700.9 1129.9 700C1129.6 699.1 1129.3 698 1128.9 696.8C1128.4 695.6 1127.9 694.3 1127.3 692.8C1126.7 691.4 1126 689.8 1125.2 688.2C1124.4 686.6 1123.4 684.8 1122.4 683C1121.3 681.1 1120.1 679.2 1118.7 677.2C1117.4 675.2 1115.9 673.1 1114.3 671C1112.7 668.8 1110.9 666.6 1109.1 664.3C1107.2 662.1 1105.2 659.7 1103.1 657.3C1101 654.9 1098.8 652.4 1096.5 649.9C1094.2 647.3 1091.8 644.7 1089.3 642.1C1086.7 639.5 1084.1 636.8 1081.4 634.2C1078.7 631.6 1075.9 628.9 1072.9 626.4C1070 623.9 1067 621.3 1063.8 618.9C1060.6 616.5 1057.3 614.2 1053.9 612.1C1050.4 609.9 1046.9 607.9 1043.2 606.1C1039.5 604.3 1035.7 602.7 1031.7 601.3C1027.8 599.8 1023.7 598.6 1019.6 597.5C1015.5 596.4 1011.2 595.5 1006.9 594.7C1002.6 593.9 998.2 593.2 993.8 592.7C989.5 592.1 985 591.7 980.6 591.3C976.1 590.9 971.6 590.7 967.2 590.5C962.8 590.2 958.3 590.1 953.9 589.9C949.6 589.7 945.2 589.6 940.9 589.5C936.7 589.3 932.4 589.2 928.3 589C924.2 588.9 920.2 588.7 916.2 588.6C912.3 588.5 908.5 588.3 904.7 588.3C901 588.3 897.4 588.4 893.9 588.6C890.4 588.8 887 589.1 883.8 589.5C880.5 589.9 877.4 590.5 874.4 591.1C871.4 591.8 868.5 592.6 865.8 593.6C863 594.5 860.4 595.5 857.9 596.7C855.5 597.8 853.1 599.1 851 600.3C848.9 601.6 847 602.9 845.2 604.2C843.5 605.5 841.9 606.9 840.6 608.1C839.2 609.4 838 610.6 836.9 611.8C835.8 612.9 834.9 614 834 614.9C833.2 615.9 832.5 616.8 831.9 617.5C831.3 618.2 830.8 618.9 830.5 619.4C830.1 619.9 829.8 620.3 829.6 620.5C829.4 620.8 829.3 620.8 829.3 620.9Z" fill="url(#gK)"/>
<path d="M877.7 699.7C877.7 699.6 877.7 699.6 877.8 699.3C877.8 699 877.9 698.6 878 698C878.1 697.4 878.2 696.7 878.4 695.9C878.6 695.1 878.9 694.2 879.2 693.2C879.5 692.1 879.9 691 880.4 689.8C880.9 688.6 881.4 687.3 882.1 685.9C882.9 684.6 883.7 683.2 884.7 681.8C885.6 680.4 886.7 678.9 888 677.4C889.3 676 890.8 674.5 892.4 673.1C894 671.6 895.8 670.2 897.8 668.8C899.8 667.4 901.9 666.1 904.3 664.8C906.6 663.6 909.1 662.4 911.8 661.2C914.4 660.1 917.3 659 920.2 658.1C923.2 657.1 926.3 656.2 929.4 655.4C932.6 654.6 935.9 653.9 939.1 653.3C942.4 652.7 945.8 652.2 949.2 651.8C952.6 651.4 956.1 651.1 959.5 651C963 650.8 966.5 650.7 970 650.8C973.6 650.9 977.1 651.1 980.7 651.4C984.2 651.7 987.8 652.1 991.3 652.7C994.9 653.2 998.4 653.9 1001.9 654.7C1005.4 655.5 1008.9 656.4 1012.4 657.5C1015.8 658.5 1019.3 659.7 1022.6 661C1026 662.2 1029.3 663.6 1032.6 665.1C1035.8 666.5 1039 668.1 1042.2 669.7C1045.3 671.4 1048.4 673.1 1051.4 674.9C1054.4 676.6 1057.3 678.5 1060.2 680.3C1063 682.1 1065.8 684 1068.5 685.9C1071.2 687.8 1073.8 689.7 1076.4 691.5C1078.9 693.4 1081.4 695.2 1083.7 697.1C1086.1 698.9 1088.4 700.7 1090.5 702.6C1092.6 704.4 1094.6 706.3 1096.3 708.2C1098 710.1 1099.6 712.1 1100.9 714.1C1102.2 716.1 1103.2 718.2 1104.2 720.2C1105.1 722.2 1105.7 724.3 1106.4 726.2C1107 728.2 1107.4 730.1 1107.9 731.9C1108.4 733.6 1108.7 735.3 1109.1 736.8C1109.4 738.4 1109.7 739.8 1109.9 741.1C1110.1 742.4 1110.2 743.5 1110.3 744.6C1110.3 745.6 1110.3 746.5 1110.3 747.3C1110.2 748.1 1110.1 748.8 1110 749.3C1110 749.8 1109.9 750.2 1109.8 750.5C1109.7 750.8 1109.7 750.8 1109.7 750.9L1109.7 750.9C1109.7 750.9 1109.6 750.8 1109.4 750.6C1109.3 750.5 1109 750.2 1108.7 749.8C1108.4 749.4 1108.1 749 1107.7 748.4C1107.3 747.8 1106.9 747 1106.5 746.2C1106 745.3 1105.6 744.4 1105.2 743.3C1104.7 742.2 1104.2 740.9 1103.7 739.6C1103.1 738.3 1102.5 736.9 1101.7 735.4C1101 733.9 1100.2 732.4 1099.3 730.7C1098.4 729.1 1097.4 727.4 1096.3 725.6C1095.2 723.9 1094 722.1 1092.7 720.3C1091.4 718.5 1089.9 716.7 1088.4 714.8C1086.8 713 1085.1 711.2 1083.3 709.4C1081.4 707.6 1079.5 705.9 1077.4 704.1C1075.4 702.4 1073.1 700.7 1070.8 699C1068.5 697.3 1066.1 695.7 1063.5 694.1C1061 692.6 1058.3 691 1055.6 689.6C1052.9 688.1 1050 686.7 1047.1 685.3C1044.3 684 1041.3 682.7 1038.3 681.4C1035.2 680.2 1032.2 679 1029.1 677.9C1026 676.8 1022.8 675.7 1019.6 674.8C1016.4 673.8 1013.2 672.9 1010 672.1C1006.7 671.3 1003.5 670.5 1000.2 669.9C996.9 669.2 993.6 668.6 990.4 668.1C987.1 667.6 983.8 667.2 980.5 666.9C977.2 666.6 974 666.4 970.7 666.2C967.5 666.1 964.2 666 961 666C957.9 666 954.7 666.1 951.6 666.3C948.4 666.4 945.3 666.7 942.3 667C939.3 667.3 936.3 667.7 933.4 668.1C930.5 668.6 927.7 669.1 925 669.7C922.3 670.3 919.7 671 917.2 671.7C914.7 672.5 912.4 673.3 910.1 674.1C907.9 675 905.8 675.9 903.8 676.9C901.8 677.9 899.9 678.9 898.2 679.9C896.5 680.9 894.9 682 893.4 683.1C891.9 684.1 890.6 685.2 889.3 686.3C888.1 687.3 887 688.4 886 689.3C885 690.3 884.1 691.3 883.3 692.2C882.5 693.1 881.8 694 881.2 694.8C880.6 695.5 880.1 696.2 879.6 696.8C879.2 697.5 878.8 698 878.5 698.4C878.3 698.8 878 699.2 877.9 699.4C877.8 699.6 877.7 699.6 877.7 699.7Z" fill="url(#gK)"/>
<path d="M741.4 453.3C741.5 453.4 741.6 453.4 742 453.7C742.4 453.9 743 454.3 743.8 454.8C744.7 455.2 745.7 455.8 746.9 456.5C748.1 457.3 749.5 458.1 751.2 459C752.8 459.9 754.6 460.9 756.7 462C758.7 463.1 760.9 464.3 763.4 465.6C765.8 466.8 768.5 468.2 771.3 469.6C774.1 471 777.2 472.4 780.4 473.9C783.6 475.4 787.1 476.9 790.7 478.5C794.3 480 798.1 481.6 802.1 483.2C806.1 484.8 810.3 486.4 814.7 487.9C819 489.5 823.6 491.1 828.3 492.6C833 494.1 837.9 495.7 842.9 497.1C847.9 498.6 853.1 500 858.5 501.3C863.8 502.7 869.3 504 874.9 505.2C880.5 506.4 886.3 507.5 892.2 508.6C898 509.7 904 510.6 910.1 511.5C916.2 512.4 922.3 513.2 928.6 513.9C934.8 514.6 941.2 515.2 947.5 515.7C953.9 516.2 960.4 516.6 966.8 516.9C973.3 517.1 979.8 517.3 986.3 517.4C992.8 517.5 999.4 517.5 1005.9 517.4C1012.4 517.3 1018.9 517 1025.4 516.7C1031.9 516.4 1038.3 516 1044.7 515.5C1051.1 515 1057.5 514.5 1063.7 513.8C1070 513.2 1076.2 512.4 1082.3 511.6C1088.4 510.8 1094.4 509.8 1100.3 508.9C1106.2 507.9 1112 506.8 1117.6 505.7C1123.3 504.6 1128.8 503.4 1134.2 502.2C1139.5 500.9 1144.8 499.6 1149.9 498.3C1154.9 496.9 1159.9 495.6 1164.6 494.2C1169.4 492.8 1174 491.3 1178.4 489.9C1182.8 488.4 1187 487 1191.1 485.5C1195.1 484.1 1199 482.6 1202.6 481.2C1206.3 479.7 1209.8 478.3 1213.1 476.9C1216.3 475.6 1219.4 474.2 1222.3 472.9C1225.2 471.7 1227.9 470.4 1230.3 469.3C1232.8 468.1 1235.1 467 1237.2 466C1239.2 465 1241.1 464 1242.7 463.2C1244.4 462.3 1245.9 461.6 1247.1 460.9C1248.3 460.3 1249.4 459.7 1250.2 459.3C1251 458.8 1251.7 458.5 1252.1 458.2C1252.5 458 1252.6 458 1252.7 457.9L1252.7 457.9C1252.7 458 1252.7 458.2 1252.7 458.8C1252.7 459.3 1252.7 460.2 1252.7 461.3C1252.6 462.5 1252.6 463.9 1252.4 465.6C1252.2 467.2 1252 469.1 1251.5 471.3C1251.1 473.4 1250.6 475.8 1249.8 478.3C1249 480.8 1248.1 483.6 1246.8 486.4C1245.5 489.3 1244 492.3 1242.1 495.4C1240.2 498.5 1238 501.7 1235.4 504.9C1232.8 508.2 1229.9 511.5 1226.6 514.8C1223.3 518 1219.6 521.4 1215.7 524.6C1211.8 527.8 1207.5 531 1202.9 534.1C1198.4 537.1 1193.6 540.1 1188.6 543C1183.5 545.8 1178.2 548.6 1172.6 551.1C1167.1 553.7 1161.2 556.2 1155.2 558.4C1149.1 560.7 1142.9 562.8 1136.4 564.7C1129.9 566.6 1123.2 568.4 1116.4 570C1109.5 571.6 1102.5 573 1095.3 574.3C1088.2 575.6 1080.9 576.7 1073.5 577.7C1066.2 578.8 1058.7 579.7 1051.3 580.5C1043.8 581.2 1036.2 581.9 1028.7 582.5C1021.2 583 1013.6 583.5 1006 583.7C998.5 584 990.9 584.1 983.4 584.1C975.8 584 968.3 583.8 960.9 583.5C953.4 583.1 946 582.5 938.7 581.8C931.3 581.1 924.1 580.1 916.9 579C909.7 577.9 902.6 576.7 895.7 575.2C888.7 573.7 881.8 572.1 875.1 570.3C868.4 568.5 861.8 566.5 855.4 564.4C848.9 562.2 842.6 560 836.5 557.5C830.4 555.1 824.4 552.5 818.8 549.8C813.2 547.1 807.8 544.2 802.7 541.2C797.7 538.2 793 535.1 788.6 531.9C784.2 528.6 780.1 525.3 776.4 521.9C772.7 518.6 769.4 515.1 766.3 511.7C763.3 508.2 760.7 504.7 758.3 501.3C755.9 497.9 753.9 494.5 752.2 491.3C750.4 488.1 749 484.9 747.8 482C746.6 479.1 745.7 476.2 744.9 473.7C744.1 471.1 743.5 468.7 743.1 466.6C742.6 464.4 742.3 462.5 742.1 460.9C741.8 459.2 741.7 457.8 741.6 456.7C741.5 455.6 741.5 454.7 741.4 454.1C741.4 453.6 741.4 453.4 741.4 453.3Z" fill="url(#gGold)"/>
<path d="M785.8 544C785.9 544.1 786 544.1 786.3 544.3C786.6 544.5 787.1 544.8 787.8 545.2C788.5 545.6 789.3 546.2 790.3 546.8C791.4 547.4 792.5 548.1 793.9 548.8C795.2 549.6 796.7 550.5 798.4 551.4C800.1 552.4 802 553.4 804 554.5C806 555.6 808.2 556.8 810.5 558C812.9 559.2 815.4 560.5 818.1 561.8C820.8 563.1 823.6 564.4 826.6 565.8C829.6 567.2 832.8 568.6 836.1 570C839.4 571.4 842.9 572.8 846.5 574.2C850.2 575.7 853.9 577.1 857.9 578.5C861.8 579.9 865.8 581.3 870 582.6C874.2 584 878.6 585.3 883 586.6C887.4 587.9 892 589.1 896.7 590.3C901.4 591.5 906.2 592.6 911.1 593.7C916 594.7 921 595.7 926 596.6C931.1 597.5 936.2 598.4 941.4 599.1C946.6 599.8 951.9 600.5 957.3 601.1C962.6 601.6 968 602.1 973.4 602.5C978.8 602.9 984.2 603.2 989.6 603.4C995.1 603.6 1000.5 603.7 1006 603.7C1011.4 603.7 1016.9 603.6 1022.3 603.4C1027.7 603.2 1033.1 602.9 1038.4 602.5C1043.7 602.1 1049 601.7 1054.3 601.1C1059.5 600.5 1064.6 599.8 1069.7 599.1C1074.8 598.3 1079.8 597.5 1084.7 596.6C1089.6 595.7 1094.4 594.7 1099.1 593.6C1103.8 592.6 1108.4 591.4 1112.8 590.3C1117.3 589.1 1121.6 587.9 1125.8 586.6C1130 585.3 1134.1 584 1138 582.6C1142 581.3 1145.8 579.9 1149.4 578.6C1153 577.2 1156.5 575.8 1159.8 574.4C1163.1 573 1166.3 571.6 1169.3 570.3C1172.3 568.9 1175.2 567.5 1177.8 566.2C1180.5 564.9 1183 563.7 1185.4 562.4C1187.7 561.2 1189.9 560 1192 558.9C1194 557.8 1195.8 556.8 1197.5 555.8C1199.2 554.9 1200.7 554 1202 553.2C1203.4 552.4 1204.6 551.7 1205.6 551C1206.6 550.4 1207.4 549.9 1208.1 549.5C1208.8 549.1 1209.3 548.7 1209.6 548.5C1209.9 548.3 1210 548.3 1210.1 548.2L1210.1 548.2C1210.1 548.3 1210.1 548.4 1210.1 548.9C1210.1 549.4 1210.1 550.1 1210.1 551C1210 552 1210 553.1 1209.8 554.5C1209.7 555.9 1209.5 557.4 1209.1 559.2C1208.7 560.9 1208.3 562.8 1207.6 564.9C1206.8 566.9 1206 569.1 1204.8 571.4C1203.7 573.7 1202.3 576.1 1200.7 578.6C1199 581.1 1197.1 583.6 1194.8 586.2C1192.6 588.7 1190 591.3 1187.2 593.9C1184.3 596.5 1181.2 599 1177.8 601.6C1174.4 604.1 1170.7 606.6 1166.9 609C1163.1 611.4 1159.1 613.7 1154.8 616C1150.6 618.2 1146.2 620.4 1141.6 622.4C1137 624.4 1132.2 626.3 1127.3 628.1C1122.3 629.9 1117.2 631.5 1111.9 633.1C1106.6 634.6 1101.2 636 1095.6 637.2C1090.1 638.5 1084.3 639.6 1078.5 640.6C1072.7 641.6 1066.8 642.5 1060.8 643.3C1054.8 644 1048.7 644.7 1042.6 645.3C1036.5 645.9 1030.3 646.4 1024.2 646.8C1018 647.2 1011.8 647.5 1005.6 647.7C999.4 648 993.1 648.1 987 648.1C980.8 648.1 974.6 648 968.5 647.7C962.4 647.5 956.3 647.1 950.3 646.6C944.3 646 938.4 645.3 932.5 644.5C926.7 643.7 920.9 642.7 915.2 641.5C909.5 640.4 904 639.1 898.5 637.7C893.1 636.2 887.7 634.6 882.5 632.9C877.3 631.1 872.2 629.2 867.3 627.2C862.4 625.2 857.6 623.1 852.9 620.9C848.3 618.6 843.8 616.3 839.5 613.9C835.3 611.4 831.1 608.9 827.3 606.4C823.5 603.8 819.9 601.1 816.7 598.5C813.4 595.8 810.4 593.1 807.8 590.4C805.1 587.8 802.7 585.1 800.7 582.4C798.6 579.8 796.8 577.2 795.3 574.7C793.7 572.1 792.5 569.7 791.4 567.3C790.3 565 789.5 562.8 788.8 560.7C788.1 558.6 787.7 556.7 787.3 555C786.9 553.2 786.6 551.6 786.4 550.3C786.2 548.9 786.1 547.8 786 546.8C785.9 545.9 785.9 545.2 785.8 544.7C785.8 544.2 785.8 544.1 785.8 544Z" fill="url(#gGold)"/>
<path d="M829.3 620.9C829.4 620.9 829.4 621 829.7 621.1C830 621.3 830.4 621.6 831 621.9C831.5 622.2 832.2 622.6 833 623.1C833.8 623.6 834.8 624.1 835.9 624.8C837 625.4 838.2 626.1 839.6 626.9C841 627.6 842.5 628.4 844.1 629.3C845.8 630.2 847.5 631.2 849.4 632.2C851.4 633.1 853.4 634.2 855.6 635.3C857.7 636.3 860 637.5 862.4 638.6C864.9 639.7 867.4 640.9 870.1 642.1C872.8 643.3 875.6 644.5 878.5 645.7C881.4 646.9 884.4 648.1 887.5 649.3C890.7 650.5 893.9 651.7 897.3 652.9C900.7 654 904.1 655.2 907.7 656.3C911.2 657.4 914.9 658.5 918.6 659.5C922.4 660.6 926.2 661.5 930.1 662.5C934 663.4 938 664.3 942.1 665.1C946.2 665.9 950.3 666.6 954.5 667.3C958.6 667.9 962.9 668.5 967.2 669C971.4 669.5 975.7 670 980.1 670.3C984.4 670.7 988.8 670.9 993.2 671.1C997.5 671.3 1001.9 671.4 1006.3 671.4C1010.7 671.4 1015.1 671.3 1019.4 671.2C1023.8 671 1028.1 670.8 1032.5 670.4C1036.8 670.1 1041.1 669.7 1045.3 669.2C1049.5 668.7 1053.7 668.1 1057.8 667.5C1061.9 666.9 1066 666.2 1070 665.4C1073.9 664.6 1077.8 663.8 1081.6 662.9C1085.4 662 1089.2 661 1092.8 660C1096.4 659 1099.9 658 1103.3 656.9C1106.7 655.8 1110 654.7 1113.2 653.6C1116.3 652.4 1119.4 651.3 1122.3 650.1C1125.3 648.9 1128.1 647.8 1130.7 646.6C1133.4 645.4 1136 644.2 1138.4 643.1C1140.8 641.9 1143.1 640.8 1145.2 639.7C1147.4 638.6 1149.4 637.5 1151.3 636.5C1153.1 635.5 1154.9 634.5 1156.5 633.5C1158.1 632.6 1159.6 631.7 1160.9 630.9C1162.2 630.1 1163.4 629.4 1164.5 628.7C1165.6 628 1166.5 627.4 1167.3 626.9C1168.1 626.4 1168.8 625.9 1169.3 625.6C1169.8 625.2 1170.2 625 1170.5 624.8C1170.8 624.6 1170.8 624.5 1170.9 624.5L1170.9 624.5C1170.9 624.6 1170.9 624.7 1170.9 625.1C1170.9 625.5 1170.9 626 1170.8 626.8C1170.8 627.6 1170.7 628.5 1170.6 629.6C1170.4 630.7 1170.2 632 1169.9 633.4C1169.6 634.9 1169.2 636.5 1168.6 638.1C1168.1 639.8 1167.4 641.7 1166.5 643.6C1165.6 645.5 1164.5 647.6 1163.2 649.6C1161.9 651.7 1160.4 653.9 1158.7 656.1C1157 658.3 1155 660.5 1152.8 662.7C1150.7 664.9 1148.3 667.2 1145.7 669.4C1143 671.6 1140.2 673.8 1137.1 675.9C1134 678 1130.7 680.1 1127.3 682.1C1123.9 684.1 1120.2 686.1 1116.4 687.9C1112.7 689.7 1108.8 691.4 1104.7 693C1100.7 694.6 1096.5 696.1 1092.2 697.5C1087.9 698.8 1083.5 700.1 1079 701.2C1074.5 702.3 1069.9 703.3 1065.1 704.1C1060.4 705 1055.6 705.7 1050.8 706.2C1045.9 706.8 1041 707.3 1036 707.6C1031 708 1025.9 708.2 1020.9 708.3C1015.8 708.4 1010.7 708.4 1005.6 708.3C1000.5 708.2 995.4 708 990.3 707.8C985.3 707.5 980.2 707.2 975.1 706.8C970.1 706.4 965 705.9 960.1 705.4C955.1 704.9 950.1 704.3 945.2 703.7C940.3 703.1 935.4 702.4 930.6 701.7C925.8 701 921.1 700.3 916.4 699.4C911.8 698.5 907.3 697.6 902.9 696.4C898.5 695.3 894.3 694.1 890.2 692.6C886.2 691.2 882.3 689.6 878.6 687.9C874.8 686.1 871.3 684.1 868 682.1C864.7 680 861.6 677.7 858.7 675.4C855.8 673.1 853.2 670.7 850.8 668.2C848.4 665.8 846.3 663.3 844.4 660.9C842.5 658.5 840.8 656 839.3 653.6C837.9 651.3 836.6 648.9 835.6 646.7C834.5 644.5 833.7 642.3 832.9 640.3C832.2 638.3 831.7 636.4 831.2 634.7C830.7 632.9 830.4 631.3 830.2 629.8C829.9 628.4 829.8 627.1 829.6 626C829.5 624.9 829.5 623.9 829.4 623.2C829.3 622.4 829.3 621.9 829.3 621.5C829.3 621.1 829.3 621 829.3 620.9Z" fill="url(#gGold)"/>
<path d="M877.7 699.7C877.8 699.7 877.8 699.8 878 699.9C878.2 700 878.5 700.1 878.9 700.3C879.4 700.6 879.9 700.8 880.5 701.1C881.1 701.4 881.8 701.8 882.7 702.2C883.5 702.6 884.4 703.1 885.4 703.6C886.5 704.1 887.6 704.6 888.8 705.2C890 705.7 891.4 706.4 892.8 707C894.2 707.6 895.8 708.3 897.4 709C899 709.6 900.7 710.3 902.5 711.1C904.3 711.8 906.3 712.5 908.3 713.3C910.2 714 912.3 714.7 914.5 715.5C916.7 716.2 918.9 717 921.3 717.7C923.6 718.5 926 719.2 928.5 719.9C931 720.6 933.6 721.3 936.3 722C938.9 722.7 941.6 723.3 944.4 723.9C947.2 724.6 950 725.2 952.9 725.7C955.8 726.3 958.7 726.8 961.7 727.3C964.7 727.8 967.7 728.2 970.8 728.6C973.9 729 977 729.4 980.1 729.7C983.3 730 986.4 730.3 989.6 730.5C992.8 730.7 996 730.9 999.2 731C1002.4 731.1 1005.6 731.2 1008.8 731.2C1012 731.2 1015.2 731.2 1018.4 731.1C1021.6 731 1024.7 730.9 1027.9 730.7C1031 730.6 1034.2 730.3 1037.3 730.1C1040.3 729.8 1043.4 729.5 1046.4 729.1C1049.4 728.8 1052.4 728.4 1055.3 727.9C1058.2 727.5 1061.1 727 1063.9 726.5C1066.6 726 1069.4 725.5 1072 724.9C1074.7 724.3 1077.3 723.7 1079.8 723.1C1082.3 722.5 1084.8 721.8 1087.1 721.2C1089.5 720.5 1091.8 719.9 1094 719.2C1096.2 718.5 1098.3 717.8 1100.3 717.1C1102.3 716.5 1104.2 715.8 1106.1 715.1C1107.9 714.4 1109.6 713.8 1111.3 713.1C1112.9 712.5 1114.4 711.9 1115.9 711.3C1117.3 710.7 1118.7 710.1 1119.9 709.5C1121.1 709 1122.3 708.5 1123.3 708C1124.3 707.5 1125.3 707.1 1126.1 706.7C1126.9 706.3 1127.7 705.9 1128.3 705.6C1128.9 705.3 1129.4 705 1129.9 704.8C1130.3 704.6 1130.6 704.5 1130.8 704.4C1131 704.3 1131 704.2 1131.1 704.2L1131.1 704.2C1131.1 704.3 1131.1 704.3 1131.1 704.6C1131.1 704.9 1131 705.3 1131 705.9C1130.9 706.4 1130.9 707.1 1130.7 707.9C1130.6 708.7 1130.4 709.7 1130.2 710.7C1129.9 711.7 1129.6 712.9 1129.1 714.1C1128.7 715.3 1128.2 716.6 1127.5 717.9C1126.8 719.2 1126 720.6 1125 722C1124 723.5 1122.8 724.9 1121.5 726.4C1120.2 727.8 1118.7 729.3 1117.1 730.8C1115.4 732.2 1113.6 733.7 1111.6 735.1C1109.7 736.5 1107.6 737.9 1105.3 739.3C1103.1 740.6 1100.7 741.9 1098.2 743.1C1095.6 744.4 1092.9 745.6 1090.1 746.7C1087.3 747.8 1084.4 748.8 1081.3 749.8C1078.3 750.8 1075.1 751.7 1071.8 752.5C1068.5 753.3 1065.2 754 1061.7 754.7C1058.3 755.4 1054.7 756 1051.2 756.5C1047.6 757 1043.9 757.5 1040.3 757.9C1036.7 758.3 1033 758.7 1029.4 759C1025.7 759.3 1022.1 759.6 1018.4 759.8C1014.8 760 1011.2 760.2 1007.6 760.3C1004 760.4 1000.4 760.4 996.8 760.3C993.3 760.3 989.7 760.2 986.2 760C982.7 759.8 979.2 759.5 975.7 759.1C972.2 758.8 968.8 758.3 965.4 757.8C962 757.3 958.6 756.7 955.3 756C952 755.3 948.7 754.5 945.5 753.7C942.2 752.9 939 752 935.9 751C932.8 750 929.7 748.9 926.6 747.8C923.6 746.7 920.6 745.5 917.7 744.3C914.9 743.1 912.1 741.8 909.4 740.4C906.8 739.1 904.3 737.7 902 736.3C899.7 734.8 897.5 733.3 895.6 731.8C893.6 730.3 891.9 728.8 890.3 727.2C888.7 725.7 887.4 724.1 886.1 722.6C884.9 721.1 883.9 719.6 883 718.1C882.1 716.6 881.4 715.1 880.8 713.8C880.2 712.4 879.7 711 879.3 709.8C878.9 708.6 878.7 707.4 878.5 706.4C878.2 705.3 878.1 704.3 878 703.5C877.9 702.7 877.8 702 877.8 701.4C877.7 700.9 877.7 700.4 877.7 700.1C877.7 699.8 877.7 699.8 877.7 699.7Z" fill="url(#gGold)"/>
<path d="M912 766C912 766 912.1 766 912.3 766.1C912.4 766.2 912.7 766.3 913 766.4C913.4 766.6 913.8 766.7 914.3 766.9C914.8 767.2 915.4 767.4 916.1 767.7C916.8 768 917.5 768.3 918.4 768.6C919.2 769 920.1 769.4 921.1 769.8C922.1 770.2 923.2 770.6 924.4 771.1C925.5 771.6 926.7 772 928.1 772.6C929.4 773.1 930.7 773.6 932.2 774.2C933.6 774.7 935.2 775.3 936.7 775.9C938.3 776.4 940 777 941.7 777.6C943.5 778.2 945.2 778.7 947.1 779.3C949 779.8 950.9 780.4 952.9 780.9C954.8 781.4 956.9 781.8 959 782.3C961.1 782.7 963.2 783.1 965.4 783.5C967.6 783.9 969.9 784.2 972.2 784.5C974.5 784.8 976.8 785.1 979.2 785.3C981.6 785.5 984 785.7 986.4 785.8C988.9 786 991.3 786.1 993.8 786.1C996.3 786.2 998.9 786.2 1001.4 786.2C1003.9 786.2 1006.5 786.1 1009.1 786C1011.6 785.9 1014.2 785.7 1016.8 785.6C1019.3 785.4 1021.9 785.1 1024.4 784.9C1027 784.6 1029.5 784.3 1032 783.9C1034.5 783.5 1037 783.1 1039.4 782.7C1041.8 782.2 1044.3 781.7 1046.6 781.2C1049 780.7 1051.3 780.1 1053.6 779.5C1055.9 778.9 1058.1 778.2 1060.3 777.6C1062.4 776.9 1064.5 776.2 1066.6 775.5C1068.6 774.7 1070.6 774 1072.5 773.2C1074.4 772.5 1076.3 771.7 1078.1 770.9C1079.8 770.1 1081.5 769.2 1083.2 768.4C1084.8 767.6 1086.4 766.8 1087.8 766C1089.3 765.2 1090.7 764.4 1092 763.6C1093.4 762.8 1094.6 762 1095.8 761.3C1097 760.5 1098.1 759.8 1099.1 759.1C1100.1 758.4 1101.1 757.7 1101.9 757.1C1102.8 756.4 1103.6 755.8 1104.3 755.3C1105.1 754.7 1105.7 754.2 1106.3 753.7C1106.9 753.3 1107.4 752.9 1107.8 752.5C1108.2 752.2 1108.6 751.9 1108.8 751.6C1109.1 751.4 1109.3 751.2 1109.5 751.1C1109.6 751 1109.7 750.9 1109.7 750.9L1109.7 750.9C1109.7 751 1109.7 751 1109.7 751.2C1109.7 751.4 1109.6 751.8 1109.6 752.2C1109.6 752.6 1109.5 753.1 1109.4 753.8C1109.4 754.4 1109.3 755.1 1109.1 755.9C1109 756.7 1108.8 757.6 1108.6 758.6C1108.3 759.6 1108.1 760.6 1107.7 761.7C1107.3 762.8 1106.9 764 1106.4 765.2C1105.9 766.4 1105.3 767.7 1104.6 769C1103.9 770.3 1103.1 771.6 1102.2 773C1101.3 774.3 1100.3 775.7 1099.2 777.1C1098 778.5 1096.8 779.8 1095.4 781.2C1094 782.6 1092.5 783.9 1090.9 785.3C1089.2 786.6 1087.5 787.9 1085.6 789.2C1083.7 790.5 1081.7 791.7 1079.6 793C1077.5 794.2 1075.3 795.3 1073 796.4C1070.7 797.6 1068.2 798.6 1065.8 799.6C1063.3 800.7 1060.8 801.6 1058.2 802.5C1055.6 803.4 1053 804.3 1050.4 805.1C1047.7 805.9 1045 806.6 1042.3 807.3C1039.6 807.9 1036.8 808.5 1034.1 809C1031.3 809.6 1028.5 810 1025.7 810.4C1023 810.8 1020.2 811.1 1017.4 811.3C1014.6 811.5 1011.8 811.7 1009 811.8C1006.3 811.9 1003.5 811.9 1000.8 811.8C998 811.8 995.3 811.6 992.6 811.4C990 811.2 987.3 811 984.7 810.7C982.1 810.3 979.6 810 977.1 809.5C974.6 809.1 972.1 808.6 969.7 808.1C967.3 807.5 964.9 807 962.7 806.4C960.4 805.7 958.2 805.1 956 804.4C953.9 803.7 951.8 803 949.8 802.3C947.8 801.6 945.9 800.9 944 800.2C942.1 799.4 940.4 798.7 938.6 798C936.9 797.3 935.3 796.6 933.7 795.9C932.2 795.3 930.7 794.6 929.3 794C927.9 793.4 926.5 792.8 925.3 792.2C924.1 791.6 922.9 791.1 921.8 790.6C920.7 790.1 919.7 789.6 918.8 789.2C917.9 788.8 917.1 788.4 916.4 788.1C915.7 787.7 915 787.4 914.5 787.2C913.9 786.9 913.5 786.7 913.1 786.5C912.7 786.3 912.5 786.2 912.3 786.1C912.1 786 912 786 912 786Z" fill="url(#gOrange)"/>
<path d="M745.7 457.7C747.3 458.6 752.5 461.4 755.2 463.3C757.9 465.2 760.5 466.8 762.1 469C763.7 471.2 764.7 473.7 764.7 476.6C764.7 479.6 762.9 483.8 762.1 486.7C761.4 489.6 760 492.5 760.2 494.3C760.4 496.1 762.2 498 763.4 497.4C764.6 496.8 766.2 492.9 767.2 490.5C768.2 488.1 769 484.3 769.7 482.9C770.4 481.5 771.1 481 771.6 482.3C772.1 483.6 772.3 487.4 772.9 490.5C773.5 493.6 774.5 498.8 775.4 500.6C776.3 502.4 777.1 502.2 778.5 501.2C779.9 500.1 781.8 496.2 783.6 494.3C785.4 492.4 787.6 490 789.3 489.8C791 489.6 792.9 490.8 793.7 493C794.5 495.2 794.5 499.7 794.3 503.1C794.1 506.5 792.4 510.7 792.4 513.2C792.4 515.7 793.1 518 794.3 518.2C795.5 518.4 797.7 516.7 799.4 514.4C801.1 512.1 802.7 507.1 804.4 504.4C806.1 501.7 807.8 498.6 809.4 498C811 497.4 812.8 498.3 813.9 500.6C815 502.9 815.3 507.7 815.8 511.9C816.3 516.1 816.2 522 817 525.8C817.8 529.6 819.5 532.8 820.8 534.6C822.1 536.4 823.2 536.8 824.6 536.5C826 536.2 827.7 532.8 829 532.7C830.3 532.6 831.2 534.3 832.2 535.9C833.2 537.5 833.8 540.9 834.7 542.2C835.6 543.5 836.5 544.3 837.8 543.5C839.1 542.7 840.9 538.8 842.3 537.2C843.7 535.6 844.9 534 846 534C847.1 534 848.2 536.2 849.2 537.2C850.2 538.2 851 540.6 852.3 539.7C853.6 538.9 855.3 535.2 856.8 532.1C858.3 529 860 523.4 861.2 520.8C862.5 518.2 863.3 515.9 864.3 516.3C865.2 516.7 865.9 519.6 866.9 523.3C867.9 527 868.6 533.3 870 538.4C871.4 543.5 873.3 549.6 875.1 553.6C876.9 557.6 878.1 560.4 881 562.5C883.9 564.6 888.9 565.4 892.6 566.2C896.3 567 899.9 567.7 903 567.5C906.1 567.3 909 566.3 911.5 565C914 563.7 915.8 562.4 917.9 559.9C920 557.4 922.6 553.2 924.2 549.8C925.8 546.4 927.1 542.9 927.3 539.7C927.5 536.6 927 533.2 925.4 530.9C923.8 528.6 920.8 526.8 917.9 525.8C915 524.8 911.4 524.8 907.8 525.2C904.2 525.6 899.8 526.5 896.4 528.3C893 530.1 889.5 533.6 887.6 535.9C885.7 538.2 885 539.9 885 542.2C885 544.5 885.9 547.3 887.6 549.8C889.3 552.3 892.2 555 895.1 557.4C898 559.8 901.4 562.4 905.2 564.3C909 566.2 913.7 567.8 917.9 568.7C922.1 569.7 926.7 570 930.5 570C934.3 570 937.5 569.6 940.6 568.7C943.8 567.9 946.5 566.8 949.4 564.9C952.3 563 955.5 560.3 958.2 557.4C960.9 554.5 963.3 550.5 965.8 547.3C968.3 544.1 970.9 541 973.4 538.4C975.9 535.8 978.5 533 981 531.5C983.5 530 986.2 529.5 988.5 529.6C990.8 529.7 992.9 530.3 994.8 532.1C996.7 533.9 998.4 536.2 999.9 540.2C1001.4 544.2 1002.3 550.9 1003.8 555.8C1005.3 560.7 1007.1 566.1 1008.8 569.7C1010.5 573.3 1012.2 575.8 1013.9 577.3C1015.6 578.8 1017.3 579.6 1018.9 578.5C1020.5 577.4 1022.1 574.7 1023.3 570.9C1024.5 567.1 1025 560.6 1025.9 555.8C1026.9 551 1027.8 545 1029 541.9C1030.2 538.8 1031.9 536.9 1033.4 536.9C1034.9 536.9 1036.7 538.8 1037.9 541.9C1039.1 545 1039.6 551.2 1040.4 555.8C1041.2 560.4 1041.9 566.6 1042.9 569.7C1044 572.9 1045.4 574.7 1046.7 574.7C1048 574.7 1049.5 572.9 1050.5 569.7C1051.5 566.6 1051.7 559.8 1052.4 555.8C1053.1 551.8 1054 547.7 1054.9 545.7C1055.8 543.7 1057 542.9 1058 543.8C1059 544.6 1060.1 547.9 1061.2 550.8C1062.3 553.6 1063.5 558.8 1064.4 560.9C1065.4 563 1065.9 564 1066.9 563.4C1068 562.8 1069.5 559 1070.7 557.1C1072 555.2 1073.2 552 1074.4 552C1075.7 552 1076.9 555.2 1078.2 557.1C1079.5 559 1080.7 562.1 1082 563.4C1083.3 564.6 1084.5 565.2 1085.8 564.6C1087.1 564 1088.6 562.8 1089.6 559.6C1090.5 556.5 1090.9 550.5 1091.5 545.7C1092.1 540.9 1092.5 534.3 1093.4 530.6C1094.4 526.9 1095.7 525 1097.2 523.6C1098.7 522.2 1100.5 522.1 1102.2 522.4C1103.9 522.7 1104.3 524.2 1107.3 525.5C1110.3 526.8 1113.7 528.9 1120 530C1126.3 531.1 1138.3 532 1145 532C1151.7 532 1156.8 529.5 1160.4 529.8C1164 530.1 1164.8 532.3 1166.7 533.6C1168.6 534.9 1170.2 537.8 1171.7 537.4C1173.2 537 1174.7 534 1175.5 531C1176.3 528 1176.2 522.6 1176.8 519.7C1177.4 516.8 1178 514.2 1179.3 513.4C1180.6 512.5 1182.5 513.4 1184.4 514.6C1186.3 515.9 1188.6 519 1190.7 520.9C1192.8 522.8 1195.1 526 1197 526C1198.9 526 1200.8 523.9 1202 520.9C1203.2 517.9 1203.7 512.5 1204.5 508.3C1205.3 504.1 1206.1 498.2 1207.1 495.7C1208 493.2 1209 492.8 1210.2 493.2C1211.5 493.6 1212.8 496.1 1214.6 498.2C1216.4 500.3 1218.8 504.1 1220.9 505.8C1223 507.5 1225.6 508.9 1227.3 508.3C1229 507.7 1230 505.1 1231 502C1232 498.9 1232.8 493 1233.6 489.4C1234.4 485.8 1235 482.3 1236.1 480.6C1237.1 478.9 1238.4 479.1 1239.9 479.3C1241.4 479.5 1243.4 481.8 1244.9 481.8C1246.4 481.8 1247.8 481.2 1248.7 479.3C1249.7 477.4 1250.2 472.6 1250.6 470.5C1251 468.4 1251.1 467.3 1251.2 466.7" fill="none" stroke="#000" stroke-width="4.8" stroke-linecap="butt" stroke-linejoin="round"/>
<path d="M802.8 580.6C804.3 580.2 809.1 577.8 811.6 578C814.1 578.2 816.2 579.9 817.9 581.8C819.6 583.7 820.4 588.5 821.7 589.4C823 590.2 824.2 588.2 825.5 586.9C826.8 585.6 828 581.8 829.3 581.8C830.6 581.8 831.8 584.8 833.1 586.9C834.4 589 835.4 593.8 836.9 594.4C838.4 595 840 592.4 841.9 590.7C843.8 589 846.3 585.6 848.2 584.4C850.1 583.2 851.8 582.7 853.3 583.7C854.8 584.8 856 587.9 857.1 590.7C858.2 593.6 858.6 598.7 859.6 600.8C860.6 602.9 861.7 603.3 863.4 603.3C865.1 603.3 867.8 600.8 869.7 600.8C871.6 600.8 873 601.6 874.7 603.3C876.4 605 877.9 608 879.8 610.9C881.7 613.8 884 618.4 886.1 620.9C888.2 623.4 890.5 625.4 892.4 626C894.3 626.6 895.9 626.4 897.4 624.7C898.9 623 900.2 619 901.2 615.9C902.2 612.8 902.1 608.5 903.1 605.8C904.1 603.1 905.7 600.6 907.5 599.5C909.3 598.4 911.1 597.6 914 599C916.9 600.4 920.7 603.7 925 608C929.3 612.3 935.4 620.4 940 625C944.6 629.6 949.8 633.9 952.8 635.7C955.8 637.5 956.6 637 957.9 635.7C959.2 634.4 959.6 631.7 960.4 628.1C961.2 624.5 961.8 617.7 962.9 614.3C964 610.9 965.2 609.1 966.7 607.9C968.2 606.7 970.2 606.4 971.7 607.3C973.2 608.1 974.2 610 975.5 613C976.8 616 978 621.6 979.3 625.6C980.6 629.6 981.8 634.3 983.1 637C984.4 639.7 985.8 641.1 986.9 642C988 642.9 989 643.4 990 642.6C991 641.8 991.6 638.7 992.6 637C993.6 635.3 994.5 633.2 995.7 632.5C996.9 631.8 998 633.1 1000 632.5C1002 631.9 1004.9 630.4 1007.6 629C1010.3 627.6 1013.9 624.2 1016.4 624C1018.9 623.8 1020.6 626.3 1022.7 627.8C1024.8 629.3 1027.1 632.8 1029 632.8C1030.9 632.8 1032.2 629.7 1034.1 627.8C1036 625.9 1038.3 622.4 1040.4 621.5C1042.5 620.6 1044.6 621.7 1046.7 622.7C1048.8 623.8 1050.9 626.5 1053 627.8C1055.1 629.1 1057.4 630.9 1059.3 630.3C1061.2 629.7 1062.9 626.7 1064.4 624C1065.9 621.3 1066.8 616.3 1068.1 613.9C1069.3 611.5 1070.4 609.7 1071.9 609.5C1073.4 609.3 1075.3 610.6 1077 612.6C1078.7 614.6 1080.1 619 1082 621.5C1083.9 624 1086 626.4 1088.3 627.8C1090.6 629.2 1093.2 629.8 1095.9 629.7C1098.6 629.6 1102.2 628.5 1104.7 627.1C1107.2 625.7 1109.4 623.7 1111 621.5C1112.6 619.3 1114 616.2 1114.2 613.9C1114.4 611.6 1113.7 609.1 1112.3 607.6C1110.9 606.1 1108.3 605.1 1106 605C1103.7 604.9 1100.5 605.6 1098.4 606.9C1096.3 608.2 1093.8 610.6 1093.4 612.6C1093 614.6 1094.2 617.1 1095.9 618.9C1097.6 620.7 1100.5 622.4 1103.5 623.3C1106.5 624.1 1110.4 624.3 1113.6 624C1116.8 623.7 1120.1 623.2 1122.4 621.5C1124.7 619.8 1125.9 616.6 1127.4 613.9C1128.9 611.1 1129.7 607.1 1131.2 605C1132.7 602.9 1134.4 601.3 1136.3 601.3C1138.2 601.3 1140.7 603.5 1142.6 605C1144.5 606.5 1145.7 609.9 1147.6 610.1C1149.5 610.3 1152.1 608.1 1153.9 606.3C1155.7 604.5 1157.1 601.9 1158.5 599.5C1159.9 597.1 1160.4 593.6 1162.1 591.7C1163.8 589.8 1165.9 589.1 1168.4 587.9C1170.9 586.6 1174.3 585.7 1177.3 584.2C1180.2 582.7 1183.4 581 1186.1 579.1C1188.8 577.2 1191.4 575.1 1193.7 572.8C1196 570.5 1198.2 567.9 1200 565.2C1201.8 562.5 1203.7 557.9 1204.4 556.4" fill="none" stroke="#000" stroke-width="4.8" stroke-linecap="butt" stroke-linejoin="round"/>
<path d="M832 630C833.5 631.2 837.7 635 840.7 637.4C843.7 639.8 846.8 642.7 850 644.6C853.2 646.5 857 647.5 860.1 649C863.2 650.5 866.6 651.7 868.9 653.4C871.2 655.1 872.5 656.9 874 659.1C875.5 661.3 876.3 664.2 877.8 666.7C879.3 669.2 880.9 672.1 882.8 674.3C884.7 676.5 887 678.6 889.1 679.9C891.2 681.1 893.1 681.9 895.4 681.8C897.7 681.7 900.5 680.3 903 679.3C905.5 678.2 908.3 676 910.6 675.5C912.9 675 914.6 675.4 916.9 676.2C919.2 677.1 921.9 679 924.4 680.6C926.9 682.2 929.9 684.6 932 685.6C934.1 686.6 935.8 687.7 937.1 686.9C938.4 686.1 938.9 682.9 939.6 680.6C940.3 678.3 940.8 674.7 941.5 673C942.2 671.3 943.2 670.1 944 670.5C944.8 670.9 945.9 672.8 946.5 675.5C947.1 678.2 947.3 683.8 947.8 686.9C948.3 690 948.9 693.6 949.7 694.4C950.5 695.2 952 694 952.8 691.9C953.6 689.8 954 684.7 954.7 681.8C955.5 678.9 956.2 676.1 957.3 674.3C958.3 672.5 959.5 671.1 961 671.1C962.5 671.1 964.4 672.3 966.1 674.3C967.8 676.3 969.4 680.2 971.1 683.1C972.8 686 974.5 689.8 976.2 691.9C977.9 694 979.7 695.7 981.2 695.7C982.7 695.7 984 693.8 985 691.9C986 690 986.2 686.1 986.9 684.4C987.6 682.7 988.4 681.6 989.4 681.8C990.4 682 991.4 683.7 992.6 685.6C993.8 687.5 995.1 691.5 996.4 693.2C997.7 694.9 999 696.5 1000.2 695.7C1001.4 694.9 1002.6 690.4 1003.8 688.3C1005 686.2 1006.1 683.3 1007.6 683.3C1009.1 683.3 1010.7 686.2 1012.6 688.3C1014.5 690.4 1017 695.5 1018.9 695.9C1020.8 696.3 1022.6 693.2 1024 690.9C1025.4 688.6 1026 683.7 1027.1 682C1028.1 680.3 1028.9 680.4 1030.3 680.8C1031.7 681.2 1033.4 683.2 1035.3 684.5C1037.2 685.8 1039.5 688.7 1041.6 688.3C1043.7 687.9 1045.8 684.3 1047.9 682C1050 679.7 1052.2 675.2 1054.3 674.4C1056.4 673.6 1058.5 676.4 1060.6 677C1062.7 677.6 1064.6 678.6 1066.9 678.2C1069.2 677.8 1072.1 675.2 1074.4 674.4C1076.7 673.6 1079.1 672.4 1080.8 673.2C1082.5 674.1 1083.5 677 1084.5 679.5C1085.5 682 1086.1 686.3 1087.1 688.3C1088 690.3 1089.2 691.9 1090.2 691.5C1091.2 691.1 1092.5 688.4 1093.4 685.8C1094.4 683.2 1094.9 678.3 1095.9 675.7C1097 673.1 1098.2 670.6 1099.7 670C1101.2 669.4 1102.8 670.7 1104.7 671.9C1106.6 673.1 1109.2 676.8 1111 677C1112.8 677.2 1114.2 675.1 1115.5 673.2C1116.8 671.3 1117.4 667.5 1118.6 665.6C1119.8 663.7 1120.9 662.2 1122.4 661.8C1123.9 661.4 1125.5 662.5 1127.4 663.1C1129.3 663.7 1131.9 665.8 1133.8 665.6C1135.7 665.4 1137.3 663.7 1138.8 661.8C1140.3 659.9 1141.3 656.4 1142.6 654.3C1143.9 652.2 1144.7 650.3 1146.4 649.2C1148.1 648.1 1150.8 648.9 1152.7 647.9C1154.6 646.9 1155.9 645.1 1157.7 643.5C1159.5 641.9 1161.7 640.5 1163.4 638.4C1165.1 636.3 1166.8 632.8 1167.8 630.9C1168.8 629 1169.4 627.6 1169.7 627" fill="none" stroke="#000" stroke-width="4.8" stroke-linecap="butt" stroke-linejoin="round"/>
<path d="M881.5 707.7C883 708.7 887.2 711 890.4 713.4C893.6 715.8 897.1 719.3 900.5 722.2C903.9 725.1 907.2 728.3 910.6 731C914 733.7 917.3 736.6 920.7 738.6C924.1 740.6 927.6 742 930.8 743C933.9 744 936.9 744.6 939.6 744.3C942.3 744 944.7 742.5 947.2 741.1C949.7 739.7 952.4 737.5 954.7 736.1C957 734.7 959.1 733.3 961 732.9C962.9 732.5 964.4 732.4 966.1 733.6C967.8 734.8 969.4 737.6 971.1 739.9C972.8 742.2 974.7 745.9 976.2 747.4C977.7 748.9 978.7 749.5 980 748.7C981.3 747.9 982.5 744.3 983.8 742.4C985 740.5 986.2 738 987.5 737.3C988.8 736.6 990 736.9 991.3 738C992.6 739.1 993.8 741.5 995.1 743.7C996.4 745.9 997.8 749.6 998.9 751.2C1000 752.8 1000.5 754.1 1001.5 753.3C1002.5 752.5 1003.6 748.5 1005 746.4C1006.4 744.3 1008.2 741.6 1010.1 740.7C1012 739.9 1014.3 740.6 1016.4 741.3C1018.5 742 1020.8 744 1022.7 745.1C1024.6 746.2 1024.1 747.6 1027.8 747.6C1031.5 747.6 1038.5 747.5 1045 745C1051.5 742.5 1062.4 735.4 1066.9 732.5C1071.4 729.6 1070.4 728.4 1071.9 727.4C1073.4 726.4 1074.2 725.6 1075.7 726.2C1077.2 726.8 1079.1 729.5 1080.8 731.2C1082.5 732.9 1084.1 736.1 1085.8 736.3C1087.5 736.5 1089.5 734.4 1090.9 732.5C1092.3 730.6 1092.5 726.6 1094 724.9C1095.5 723.2 1097.3 723.2 1099.7 722.4C1102.1 721.6 1105.5 720.9 1108.5 719.9C1111.5 718.9 1114.7 717.5 1117.4 716.1C1120.1 714.7 1123 712.8 1124.9 711.7C1126.8 710.7 1128.1 710.1 1128.7 709.8" fill="none" stroke="#000" stroke-width="4.8" stroke-linecap="butt" stroke-linejoin="round"/>
<path d="M930 775C931.4 775.8 935.2 777.8 938.2 779.8C941.2 781.8 944.5 785.1 948.3 787.3C952.1 789.5 956.8 791.3 961 793C965.2 794.7 970.7 796.9 973.6 797.4C976.5 797.9 976.7 797 978.6 796.2C980.5 795.4 983.3 792.6 985 792.4C986.7 792.2 987.2 793.2 988.7 794.9C990.2 796.6 992.3 800.9 993.8 802.5C995.3 804.1 996.2 805 997.5 804.4C998.8 803.8 1000 800.5 1001.3 798.7C1002.6 796.9 1003.8 794.1 1005.1 793.7C1006.4 793.3 1007.6 794.9 1008.9 796.2C1010.2 797.5 1011.5 801 1013 801.5C1014.5 802 1015.8 800.8 1017.6 799.5C1019.4 798.2 1022 795 1023.9 793.8C1025.8 792.6 1027 792.3 1028.9 792.5C1030.8 792.7 1032.9 794.2 1035.2 795C1037.5 795.8 1040.3 797.2 1042.8 797.5C1045.3 797.8 1047.5 797.5 1050.4 796.9C1053.4 796.3 1057.1 795.4 1060.5 793.8C1063.9 792.2 1067.2 789.9 1070.6 787.4C1074 784.9 1077.3 781.8 1080.7 778.6C1084.1 775.5 1087.9 771.5 1090.8 768.5C1093.7 765.5 1096 763.2 1098.3 760.9C1100.6 758.6 1103.1 756 1104.6 754.6C1106.1 753.2 1106.8 753 1107.2 752.7" fill="none" stroke="#000" stroke-width="4.8" stroke-linecap="butt" stroke-linejoin="round"/>
<circle cx="1133.8" cy="534.5" r="26.1" fill="url(#gGreen)" stroke="#3b7a1f" stroke-width="2"/>
<text x="1133.8" y="543.3" font-size="26.7" text-anchor="middle" fill="#000">$</text>
<circle cx="932.5" cy="620" r="22.7" fill="url(#gGreen)" stroke="#3b7a1f" stroke-width="2"/>
<text x="932.5" y="627.4" font-size="22.5" text-anchor="middle" fill="#000">$</text>
<circle cx="1048.5" cy="742.3" r="19.3" fill="url(#gGreen)" stroke="#3b7a1f" stroke-width="2"/>
<text x="1048.5" y="748.9" font-size="20" text-anchor="middle" fill="#000">$</text>
<polygon points="890.8,743.8 907,766.9 913.3,755.5 916.8,769.6 932.9,756.8 924.4,771.5 939.2,774.5 927.7,782.4 938.4,801.2 923,791.8 923.5,809.3 914.4,791.5 907,806.6 903.7,788.9 892.1,807 896.6,787 886.6,790.2 894.5,780.8 876.7,776.8 893.6,773 882.6,760.8 897.7,765.4" fill="#ffd966" stroke="#000" stroke-width="4.4" stroke-linejoin="round"/>
<line x1="867.5" y1="655.5" x2="831" y2="692.5" stroke="#000" stroke-width="2.8" stroke-dasharray="8,5.5"/>
<polygon points="1118.9,318.2 1134,315.7 1132.7,320.8 1151,327.7 1147.9,335.9 1130.2,328.3 1128.3,331.5" fill="url(#gArrG)"/>
<polygon points="838.2,245.7 855.9,240 857.5,258.6 854,259.9 858.7,275.3 855.3,276.9 858.7,304.6 845.2,280 849.9,278.1 841.1,263.6 846.7,261.1" fill="url(#gBolt)" stroke="#cf0000" stroke-width="2" stroke-linejoin="miter"/>
<polygon points="871.2,245.7 888.9,240 890.5,258.6 887,259.9 891.7,275.3 888.3,276.9 891.7,304.6 878.2,280 882.9,278.1 874.1,263.6 879.7,261.1" fill="url(#gBolt)" stroke="#cf0000" stroke-width="2" stroke-linejoin="miter"/>
<rect x="633.2" y="90" width="8.8" height="838.6" fill="#000"/>
<polygon points="637.6,51.5 653.2,93.6 622.4,93.6" fill="#000"/>
<text x="637.6" y="981" font-size="36" text-anchor="middle" fill="#000" font-weight="bold">Time</text>
<g transform="rotate(-90 663.5 260.5)"><text x="663.5" y="260.5" font-size="14.67" text-anchor="middle" fill="#000">Termination Trajectories</text></g>
<g transform="rotate(-90 663.5 527)"><text x="663.5" y="527" font-size="14.67" text-anchor="middle" fill="#000">Subsequent Service Cycles</text></g>
<g transform="rotate(-90 663.5 779)"><text x="663.5" y="779" font-size="14.67" text-anchor="middle" fill="#000">Initial Service Cycle</text></g>
<rect x="971.5" y="1" width="296" height="134" fill="#fff" stroke="#000" stroke-width="2"/>
<polygon points="1004.2,39 1050.5,39 1050.5,34 1045.3,34 1057.5,20.5 1069.7,34 1064.5,34 1064.5,39 1110.8,39 1110.8,74 1004.2,74" fill="#ead1dc" stroke="#a64d79" stroke-width="2" stroke-linejoin="miter"/>
<text x="1057.5" y="95.3" font-size="14.67" text-anchor="middle" fill="#000">Service Design</text><text x="1057.5" y="113.2" font-size="14.67" text-anchor="middle" fill="#000">Principles</text>
<circle cx="1197.7" cy="55.9" r="26" fill="url(#gGreen)" stroke="#3b7a1f" stroke-width="2"/>
<text x="1197.7" y="64.7" font-size="26.7" text-anchor="middle" fill="#000">$</text>
<text x="1197.7" y="104" font-size="14.67" text-anchor="middle" fill="#000">Purchases</text>
<polygon points="240.5,332 376.5,332 376.5,374.5 317.5,374.5 317.5,381.8 324.2,381.8 308,397.5 292.3,381.8 299,381.8 299,374.5 240.5,374.5" fill="#ead1dc" stroke="#a64d79" stroke-width="2" stroke-linejoin="miter"/>
<text x="308" y="358.5" font-size="14.67" text-anchor="middle" fill="#000">Streamlining</text>
<polygon points="241,899 298.5,899 298.5,891.5 291.8,891.5 307.5,876.5 323.2,891.5 316.5,891.5 316.5,899 374,899 374,942.5 241,942.5" fill="#ead1dc" stroke="#a64d79" stroke-width="2" stroke-linejoin="miter"/>
<text x="307.5" y="917.5" font-size="14.67" text-anchor="middle" fill="#000">Decision</text><text x="307.5" y="935.2" font-size="14.67" text-anchor="middle" fill="#000">Support</text>
<polygon points="924,376 1061,376 1061,419 1002.5,419 1002.5,425 1008.7,425 993,441 977.3,425 984,425 984,419 924,419" fill="#ead1dc" stroke="#a64d79" stroke-width="2" stroke-linejoin="miter"/>
<text x="992.7" y="392.5" font-size="14.67" text-anchor="middle" fill="#000">Endless</text><text x="992.7" y="410.6" font-size="14.67" text-anchor="middle" fill="#000">Variation</text>
<polygon points="924,898 983,898 983,891 976.3,891 992,875.5 1007.7,891 1001,891 1001,898 1060,898 1060,941.5 924,941.5" fill="#ead1dc" stroke="#a64d79" stroke-width="2" stroke-linejoin="miter"/>
<text x="992" y="916" font-size="14.67" text-anchor="middle" fill="#000">Rapid</text><text x="992" y="934" font-size="14.67" text-anchor="middle" fill="#000">Entry</text>
<text x="174.1" y="213.6" font-size="14.67" text-anchor="middle" fill="#000">Loyalty-Weakening</text><text x="174.1" y="231.1" font-size="14.67" text-anchor="middle" fill="#000">Incidents</text>
<text x="87.9" y="283.8" font-size="14.67" text-anchor="middle" fill="#000">Switch</text><text x="87.9" y="301.6" font-size="14.67" text-anchor="middle" fill="#000">to Another</text><text x="87.9" y="319.6" font-size="14.67" text-anchor="middle" fill="#000">Brand</text>
<text x="45" y="428.8" font-size="14.67" text-anchor="middle" fill="#000">Retrigger</text>
<text x="45" y="495" font-size="14.67" text-anchor="middle" fill="#000">Retrigger</text>
<text x="45" y="561.2" font-size="14.67" text-anchor="middle" fill="#000">Retrigger</text>
<text x="47.2" y="646.2" font-size="14.67" text-anchor="middle" fill="#000">Trigger</text>
<text x="307.5" y="422.8" font-size="25.85" text-anchor="middle" fill="#3c78d8" font-weight="bold">Loyalty Loop</text>
<text x="307.1" y="462.5" font-size="14.67" text-anchor="middle" fill="#000">Repurchase</text>
<text x="307.1" y="528.8" font-size="14.67" text-anchor="middle" fill="#000">Repurchase</text>
<text x="307.1" y="595" font-size="14.67" text-anchor="middle" fill="#000">Repurchase</text>
<g transform="rotate(-20.8 438 440)"><text x="438" y="434.5" font-size="14.67" text-anchor="middle" fill="#000">Reconsumption</text><text x="438" y="452.4" font-size="14.67" text-anchor="middle" fill="#000">Experience</text></g>
<g transform="rotate(-20.8 438 506.5)"><text x="438" y="501" font-size="14.67" text-anchor="middle" fill="#000">Reconsumption</text><text x="438" y="518.9" font-size="14.67" text-anchor="middle" fill="#000">Experience</text></g>
<g transform="rotate(-20.8 438 573)"><text x="438" y="567.5" font-size="14.67" text-anchor="middle" fill="#000">Reconsumption</text><text x="438" y="585.4" font-size="14.67" text-anchor="middle" fill="#000">Experience</text></g>
<g transform="rotate(17 146 710.5)"><text x="146" y="705" font-size="14.67" text-anchor="middle" fill="#000">Initial Consideration</text><text x="146" y="722.9" font-size="14.67" text-anchor="middle" fill="#000">&amp; Active Evaluation</text></g>
<text x="307" y="731" font-size="14.67" text-anchor="middle" fill="#000">Highly Deliberate</text><text x="307" y="749" font-size="14.67" text-anchor="middle" fill="#000">Initial Purchase</text>
<g transform="rotate(-20.9 469 706)"><text x="469" y="700" font-size="14.67" text-anchor="middle" fill="#000">Initial Consumption</text><text x="469" y="717.9" font-size="14.67" text-anchor="middle" fill="#000">Experience</text></g>
<text x="308.2" y="856.3" font-size="25.83" text-anchor="middle" fill="#674ea7" font-weight="bold">Deliberate Decision-Making Process</text>
<text x="859" y="216.2" font-size="14.67" text-anchor="middle" fill="#000">Well-being</text><text x="859" y="233.4" font-size="14.67" text-anchor="middle" fill="#000">Concerns</text>
<text x="773.4" y="283.5" font-size="14.67" text-anchor="middle" fill="#000">Sudden or</text><text x="773.4" y="301.6" font-size="14.67" text-anchor="middle" fill="#000">Gradual</text><text x="773.4" y="319.7" font-size="14.67" text-anchor="middle" fill="#000">Withdrawal</text>
<text x="993" y="463.3" font-size="25.83" text-anchor="middle" fill="#bf9000" font-weight="bold">Involvement Spiral</text>
<text x="1249" y="552.5" font-size="14.67" text-anchor="middle" fill="#000">Plan</text><text x="1249" y="570.3" font-size="14.67" text-anchor="middle" fill="#000">Upgrades</text>
<text x="747.4" y="586" font-size="14.67" text-anchor="middle" fill="#000">Increasing</text><text x="747.4" y="604.1" font-size="14.67" text-anchor="middle" fill="#000">Experiential</text><text x="747.4" y="622.2" font-size="14.67" text-anchor="middle" fill="#000">Involvement</text>
<text x="788.5" y="690" font-size="14.67" text-anchor="middle" fill="#000">Experiential</text><text x="788.5" y="708" font-size="14.67" text-anchor="middle" fill="#000">Roller Coaster</text>
<text x="835" y="781.2" font-size="14.67" text-anchor="middle" fill="#000">Sparks of</text><text x="835" y="798.9" font-size="14.67" text-anchor="middle" fill="#000">Curiosity</text>
<text x="1214.8" y="642.2" font-size="14.67" text-anchor="middle" fill="#000">One-Off</text><text x="1214.8" y="659.9" font-size="14.67" text-anchor="middle" fill="#000">Purchases</text>
<text x="1174" y="732.6" font-size="14.67" text-anchor="middle" fill="#000">Beginner</text><text x="1174" y="750.2" font-size="14.67" text-anchor="middle" fill="#000">Service Plan</text>
<text x="992.6" y="856.6" font-size="26" text-anchor="middle" fill="#b45f06" font-weight="bold">Quick Spin</text>
<rect x="1" y="1029" width="614" height="237" fill="#a4c2f4" stroke="#000" stroke-width="2"/>
<rect x="661" y="1029" width="613" height="237" fill="#ffe599" stroke="#000" stroke-width="2"/>
<text x="308.2" y="1091.2" font-size="36.75" text-anchor="middle" fill="#000" font-weight="bold">The Smooth Journey Model</text>
<text x="308" y="1136.3" font-size="18.40" text-anchor="middle" fill="#000" font-style="italic">Facilitating loyalty loops</text><text x="308" y="1158.4" font-size="18.40" text-anchor="middle" fill="#000" font-style="italic">with decision support and streamlining</text><text x="308" y="1180.5" font-size="18.40" text-anchor="middle" fill="#000" font-style="italic">to make customers’ lives easier</text>
<text x="308" y="1217.7" font-size="14.70" text-anchor="middle" fill="#000">Figure based on prior CXM research: Court et al. 2009; Court et al. 2017; Edelman and</text><text x="308" y="1235.5" font-size="14.70" text-anchor="middle" fill="#000">Singer 2015; see also Fleming 2016; Hyken 2018; Kuehnl, Jozić, and Homburg 2019</text>
<text x="967.3" y="1090.3" font-size="36.75" text-anchor="middle" fill="#000" font-weight="bold">The Sticky Journey Model</text>
<text x="967.5" y="1138.5" font-size="18.40" text-anchor="middle" fill="#000" font-style="italic">Facilitating involvement spirals</text><text x="967.5" y="1160.5" font-size="18.40" text-anchor="middle" fill="#000" font-style="italic">with rapid entry and endless variation</text><text x="967.5" y="1182.5" font-size="18.40" text-anchor="middle" fill="#000" font-style="italic">to make customers’ lives exciting</text>
<text x="967.5" y="1219.5" font-size="14.76" text-anchor="middle" fill="#000">Figure based on empirical research in three contexts: a group fitness service (CrossFit);</text><text x="967.5" y="1237.4" font-size="14.76" text-anchor="middle" fill="#000">a mobile augmented reality game (Pokémon Go); a geosocial dating app (Tinder)</text>
</svg>
</body></html>
